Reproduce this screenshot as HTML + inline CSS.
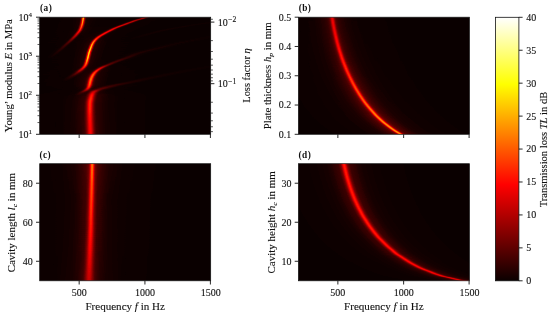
<!DOCTYPE html>
<html lang="en"><head><meta charset="utf-8"><title>Transmission loss parameter study</title>
<style>html,body{margin:0;padding:0;background:#fff}svg{display:block}text{font-family:"Liberation Serif","DejaVu Serif",serif;font-size:10px;fill:#111;stroke:#111;stroke-width:.1px}.al{font-size:10.1px}.b{font-weight:bold;font-size:9.3px;fill:#111;stroke:none;letter-spacing:.4px}.i{font-style:italic}.s{font-size:7px}.s2{font-size:7.6px;letter-spacing:.2px}.tk{stroke:#111;stroke-width:.9;fill:none}.mt{stroke:#111;stroke-width:.7;fill:none}.sp{stroke:#111;stroke-width:.7;fill:none}</style></head><body>
<svg width="550" height="316" viewBox="0 0 550 316">
<defs>
<filter id="hot" x="0" y="0" width="550" height="316" filterUnits="userSpaceOnUse" color-interpolation-filters="sRGB">
<feGaussianBlur stdDeviation="0.6"/><feComponentTransfer><feFuncR type="table" tableValues="0.0416 0.0692 0.0969 0.1245 0.1521 0.1798 0.2074 0.2350 0.2627 0.2903 0.3179 0.3456 0.3732 0.4008 0.4285 0.4561 0.4837 0.5114 0.5390 0.5666 0.5943 0.6219 0.6495 0.6772 0.7048 0.7324 0.7601 0.7877 0.8153 0.8430 0.8706 0.8982 0.9259 0.9535 0.9811 1.0000 1.0000 1.0000 1.0000 1.0000 1.0000 1.0000 1.0000 1.0000 1.0000 1.0000 1.0000 1.0000 1.0000 1.0000 1.0000 1.0000 1.0000 1.0000 1.0000 1.0000 1.0000 1.0000 1.0000 1.0000 1.0000 1.0000 1.0000 1.0000 1.0000 1.0000 1.0000 1.0000 1.0000 1.0000 1.0000 1.0000 1.0000 1.0000 1.0000 1.0000 1.0000 1.0000 1.0000 1.0000 1.0000 1.0000 1.0000 1.0000 1.0000 1.0000 1.0000 1.0000 1.0000 1.0000 1.0000 1.0000 1.0000 1.0000 1.0000 1.0000"/><feFuncG type="table" tableValues="0.0000 0.0000 0.0000 0.0000 0.0000 0.0000 0.0000 0.0000 0.0000 0.0000 0.0000 0.0000 0.0000 0.0000 0.0000 0.0000 0.0000 0.0000 0.0000 0.0000 0.0000 0.0000 0.0000 0.0000 0.0000 0.0000 0.0000 0.0000 0.0000 0.0000 0.0000 0.0000 0.0000 0.0000 0.0000 0.0088 0.0364 0.0640 0.0917 0.1193 0.1469 0.1746 0.2022 0.2298 0.2575 0.2851 0.3127 0.3404 0.3680 0.3956 0.4232 0.4509 0.4785 0.5061 0.5338 0.5614 0.5890 0.6167 0.6443 0.6719 0.6996 0.7272 0.7548 0.7825 0.8101 0.8377 0.8654 0.8930 0.9206 0.9482 0.9759 1.0000 1.0000 1.0000 1.0000 1.0000 1.0000 1.0000 1.0000 1.0000 1.0000 1.0000 1.0000 1.0000 1.0000 1.0000 1.0000 1.0000 1.0000 1.0000 1.0000 1.0000 1.0000 1.0000 1.0000 1.0000"/><feFuncB type="table" tableValues="0.0000 0.0000 0.0000 0.0000 0.0000 0.0000 0.0000 0.0000 0.0000 0.0000 0.0000 0.0000 0.0000 0.0000 0.0000 0.0000 0.0000 0.0000 0.0000 0.0000 0.0000 0.0000 0.0000 0.0000 0.0000 0.0000 0.0000 0.0000 0.0000 0.0000 0.0000 0.0000 0.0000 0.0000 0.0000 0.0000 0.0000 0.0000 0.0000 0.0000 0.0000 0.0000 0.0000 0.0000 0.0000 0.0000 0.0000 0.0000 0.0000 0.0000 0.0000 0.0000 0.0000 0.0000 0.0000 0.0000 0.0000 0.0000 0.0000 0.0000 0.0000 0.0000 0.0000 0.0000 0.0000 0.0000 0.0000 0.0000 0.0000 0.0000 0.0000 0.0053 0.0467 0.0882 0.1296 0.1711 0.2125 0.2539 0.2954 0.3368 0.3783 0.4197 0.4612 0.5026 0.5441 0.5855 0.6270 0.6684 0.7099 0.7513 0.7928 0.8342 0.8757 0.9171 0.9586 1.0000"/></feComponentTransfer></filter>
<filter id="L0" x="-120" y="-20" width="790" height="356" filterUnits="userSpaceOnUse" color-interpolation-filters="sRGB"><feGaussianBlur stdDeviation="0.5 0.03"/></filter>
<filter id="L1" x="-120" y="-20" width="790" height="356" filterUnits="userSpaceOnUse" color-interpolation-filters="sRGB"><feGaussianBlur stdDeviation="1 0.03"/></filter>
<filter id="L2" x="-120" y="-20" width="790" height="356" filterUnits="userSpaceOnUse" color-interpolation-filters="sRGB"><feGaussianBlur stdDeviation="2 0.03"/></filter>
<filter id="L3" x="-120" y="-20" width="790" height="356" filterUnits="userSpaceOnUse" color-interpolation-filters="sRGB"><feGaussianBlur stdDeviation="4 0.03"/></filter>
<filter id="L4" x="-120" y="-20" width="790" height="356" filterUnits="userSpaceOnUse" color-interpolation-filters="sRGB"><feGaussianBlur stdDeviation="8 0.03"/></filter>
<filter id="L5" x="-120" y="-20" width="790" height="356" filterUnits="userSpaceOnUse" color-interpolation-filters="sRGB"><feGaussianBlur stdDeviation="16 0.03"/></filter>
<filter id="L6" x="-120" y="-20" width="790" height="356" filterUnits="userSpaceOnUse" color-interpolation-filters="sRGB"><feGaussianBlur stdDeviation="32 0.03"/></filter>
<clipPath id="ca"><rect x="39.70" y="17.20" width="171.00" height="117.10"/></clipPath>
<clipPath id="cb"><rect x="298.40" y="17.20" width="171.00" height="117.10"/></clipPath>
<clipPath id="cc"><rect x="39.70" y="163.70" width="171.00" height="117.10"/></clipPath>
<clipPath id="cd"><rect x="298.40" y="163.70" width="171.00" height="117.10"/></clipPath>
<linearGradient id="cbg" x1="0" y1="1" x2="0" y2="0">
<stop offset="0.00000" stop-color="rgb(11,0,0)"/>
<stop offset="0.36508" stop-color="rgb(255,0,0)"/>
<stop offset="0.74603" stop-color="rgb(255,255,0)"/>
<stop offset="1.00000" stop-color="rgb(255,255,255)"/>
</linearGradient>
<linearGradient id="g1" gradientUnits="userSpaceOnUse" x1="0" y1="14.0" x2="0" y2="59.0"><stop offset="0.0000" stop-color="#fff" stop-opacity="0.495"/><stop offset="0.0667" stop-color="#fff" stop-opacity="0.495"/><stop offset="0.2444" stop-color="#fff" stop-opacity="0.240"/><stop offset="0.4222" stop-color="#fff" stop-opacity="0.049"/><stop offset="0.5111" stop-color="#fff" stop-opacity="0.000"/><stop offset="0.6000" stop-color="#fff" stop-opacity="0.000"/><stop offset="0.6889" stop-color="#fff" stop-opacity="0.000"/><stop offset="0.7778" stop-color="#fff" stop-opacity="0.000"/><stop offset="0.9111" stop-color="#fff" stop-opacity="0.000"/><stop offset="1.0000" stop-color="#fff" stop-opacity="0.000"/></linearGradient><linearGradient id="g2" gradientUnits="userSpaceOnUse" x1="0" y1="14.0" x2="0" y2="59.0"><stop offset="0.0000" stop-color="#fff" stop-opacity="0.664"/><stop offset="0.0667" stop-color="#fff" stop-opacity="0.664"/><stop offset="0.2444" stop-color="#fff" stop-opacity="0.661"/><stop offset="0.4222" stop-color="#fff" stop-opacity="0.498"/><stop offset="0.5111" stop-color="#fff" stop-opacity="0.375"/><stop offset="0.6000" stop-color="#fff" stop-opacity="0.171"/><stop offset="0.6889" stop-color="#fff" stop-opacity="0.104"/><stop offset="0.7778" stop-color="#fff" stop-opacity="0.050"/><stop offset="0.9111" stop-color="#fff" stop-opacity="0.019"/><stop offset="1.0000" stop-color="#fff" stop-opacity="0.000"/></linearGradient><linearGradient id="g3" gradientUnits="userSpaceOnUse" x1="0" y1="14.0" x2="0" y2="59.0"><stop offset="0.0000" stop-color="#fff" stop-opacity="0.000"/><stop offset="0.0667" stop-color="#fff" stop-opacity="0.000"/><stop offset="0.2444" stop-color="#fff" stop-opacity="0.000"/><stop offset="0.4222" stop-color="#fff" stop-opacity="0.011"/><stop offset="0.5111" stop-color="#fff" stop-opacity="0.044"/><stop offset="0.6000" stop-color="#fff" stop-opacity="0.053"/><stop offset="0.6889" stop-color="#fff" stop-opacity="0.050"/><stop offset="0.7778" stop-color="#fff" stop-opacity="0.046"/><stop offset="0.9111" stop-color="#fff" stop-opacity="0.020"/><stop offset="1.0000" stop-color="#fff" stop-opacity="0.000"/></linearGradient><linearGradient id="g4" gradientUnits="userSpaceOnUse" x1="0" y1="14.0" x2="0" y2="59.0"><stop offset="0.0000" stop-color="#fff" stop-opacity="0.023"/><stop offset="0.0667" stop-color="#fff" stop-opacity="0.023"/><stop offset="0.2444" stop-color="#fff" stop-opacity="0.041"/><stop offset="0.4222" stop-color="#fff" stop-opacity="0.039"/><stop offset="0.5111" stop-color="#fff" stop-opacity="0.017"/><stop offset="0.6000" stop-color="#fff" stop-opacity="0.001"/><stop offset="0.6889" stop-color="#fff" stop-opacity="0.000"/><stop offset="0.7778" stop-color="#fff" stop-opacity="0.000"/><stop offset="0.9111" stop-color="#fff" stop-opacity="0.000"/><stop offset="1.0000" stop-color="#fff" stop-opacity="0.000"/></linearGradient><linearGradient id="g5" gradientUnits="userSpaceOnUse" x1="0" y1="14.0" x2="0" y2="59.0"><stop offset="0.0000" stop-color="#fff" stop-opacity="0.055"/><stop offset="0.0667" stop-color="#fff" stop-opacity="0.055"/><stop offset="0.2444" stop-color="#fff" stop-opacity="0.044"/><stop offset="0.4222" stop-color="#fff" stop-opacity="0.027"/><stop offset="0.5111" stop-color="#fff" stop-opacity="0.024"/><stop offset="0.6000" stop-color="#fff" stop-opacity="0.018"/><stop offset="0.6889" stop-color="#fff" stop-opacity="0.010"/><stop offset="0.7778" stop-color="#fff" stop-opacity="0.004"/><stop offset="0.9111" stop-color="#fff" stop-opacity="0.003"/><stop offset="1.0000" stop-color="#fff" stop-opacity="0.000"/></linearGradient><linearGradient id="g6" gradientUnits="userSpaceOnUse" x1="0" y1="14.0" x2="0" y2="59.0"><stop offset="0.0000" stop-color="#fff" stop-opacity="0.012"/><stop offset="0.0667" stop-color="#fff" stop-opacity="0.012"/><stop offset="0.2444" stop-color="#fff" stop-opacity="0.017"/><stop offset="0.4222" stop-color="#fff" stop-opacity="0.014"/><stop offset="0.5111" stop-color="#fff" stop-opacity="0.008"/><stop offset="0.6000" stop-color="#fff" stop-opacity="0.004"/><stop offset="0.6889" stop-color="#fff" stop-opacity="0.003"/><stop offset="0.7778" stop-color="#fff" stop-opacity="0.003"/><stop offset="0.9111" stop-color="#fff" stop-opacity="0.001"/><stop offset="1.0000" stop-color="#fff" stop-opacity="0.000"/></linearGradient><linearGradient id="g7" gradientUnits="userSpaceOnUse" x1="0" y1="14.0" x2="0" y2="59.0"><stop offset="0.0000" stop-color="#fff" stop-opacity="0.009"/><stop offset="0.0667" stop-color="#fff" stop-opacity="0.009"/><stop offset="0.2444" stop-color="#fff" stop-opacity="0.008"/><stop offset="0.4222" stop-color="#fff" stop-opacity="0.005"/><stop offset="0.5111" stop-color="#fff" stop-opacity="0.004"/><stop offset="0.6000" stop-color="#fff" stop-opacity="0.003"/><stop offset="0.6889" stop-color="#fff" stop-opacity="0.001"/><stop offset="0.7778" stop-color="#fff" stop-opacity="0.001"/><stop offset="0.9111" stop-color="#fff" stop-opacity="0.000"/><stop offset="1.0000" stop-color="#fff" stop-opacity="0.000"/></linearGradient><linearGradient id="g8" gradientUnits="userSpaceOnUse" x1="0" y1="15.5" x2="0" y2="82.0"><stop offset="0.0000" stop-color="#fff" stop-opacity="0.000"/><stop offset="0.0376" stop-color="#fff" stop-opacity="0.000"/><stop offset="0.0977" stop-color="#fff" stop-opacity="0.000"/><stop offset="0.1579" stop-color="#fff" stop-opacity="0.000"/><stop offset="0.2180" stop-color="#fff" stop-opacity="0.000"/><stop offset="0.2782" stop-color="#fff" stop-opacity="0.000"/><stop offset="0.3383" stop-color="#fff" stop-opacity="0.003"/><stop offset="0.4286" stop-color="#fff" stop-opacity="0.313"/><stop offset="0.5188" stop-color="#fff" stop-opacity="0.394"/><stop offset="0.6391" stop-color="#fff" stop-opacity="0.394"/><stop offset="0.7143" stop-color="#fff" stop-opacity="0.119"/><stop offset="0.7744" stop-color="#fff" stop-opacity="0.003"/><stop offset="0.8195" stop-color="#fff" stop-opacity="0.000"/><stop offset="0.8647" stop-color="#fff" stop-opacity="0.000"/><stop offset="0.9173" stop-color="#fff" stop-opacity="0.000"/><stop offset="0.9624" stop-color="#fff" stop-opacity="0.000"/><stop offset="1.0000" stop-color="#fff" stop-opacity="0.000"/></linearGradient><linearGradient id="g9" gradientUnits="userSpaceOnUse" x1="0" y1="15.5" x2="0" y2="82.0"><stop offset="0.0000" stop-color="#fff" stop-opacity="0.152"/><stop offset="0.0376" stop-color="#fff" stop-opacity="0.274"/><stop offset="0.0977" stop-color="#fff" stop-opacity="0.343"/><stop offset="0.1579" stop-color="#fff" stop-opacity="0.398"/><stop offset="0.2180" stop-color="#fff" stop-opacity="0.464"/><stop offset="0.2782" stop-color="#fff" stop-opacity="0.547"/><stop offset="0.3383" stop-color="#fff" stop-opacity="0.667"/><stop offset="0.4286" stop-color="#fff" stop-opacity="0.750"/><stop offset="0.5188" stop-color="#fff" stop-opacity="0.819"/><stop offset="0.6391" stop-color="#fff" stop-opacity="0.819"/><stop offset="0.7143" stop-color="#fff" stop-opacity="0.774"/><stop offset="0.7744" stop-color="#fff" stop-opacity="0.621"/><stop offset="0.8195" stop-color="#fff" stop-opacity="0.307"/><stop offset="0.8647" stop-color="#fff" stop-opacity="0.068"/><stop offset="0.9173" stop-color="#fff" stop-opacity="0.018"/><stop offset="0.9624" stop-color="#fff" stop-opacity="0.006"/><stop offset="1.0000" stop-color="#fff" stop-opacity="0.000"/></linearGradient><linearGradient id="g10" gradientUnits="userSpaceOnUse" x1="0" y1="15.5" x2="0" y2="82.0"><stop offset="0.0000" stop-color="#fff" stop-opacity="0.117"/><stop offset="0.0376" stop-color="#fff" stop-opacity="0.194"/><stop offset="0.0977" stop-color="#fff" stop-opacity="0.237"/><stop offset="0.1579" stop-color="#fff" stop-opacity="0.277"/><stop offset="0.2180" stop-color="#fff" stop-opacity="0.244"/><stop offset="0.2782" stop-color="#fff" stop-opacity="0.207"/><stop offset="0.3383" stop-color="#fff" stop-opacity="0.073"/><stop offset="0.4286" stop-color="#fff" stop-opacity="0.000"/><stop offset="0.5188" stop-color="#fff" stop-opacity="0.000"/><stop offset="0.6391" stop-color="#fff" stop-opacity="0.000"/><stop offset="0.7143" stop-color="#fff" stop-opacity="0.018"/><stop offset="0.7744" stop-color="#fff" stop-opacity="0.070"/><stop offset="0.8195" stop-color="#fff" stop-opacity="0.241"/><stop offset="0.8647" stop-color="#fff" stop-opacity="0.186"/><stop offset="0.9173" stop-color="#fff" stop-opacity="0.101"/><stop offset="0.9624" stop-color="#fff" stop-opacity="0.035"/><stop offset="1.0000" stop-color="#fff" stop-opacity="0.000"/></linearGradient><linearGradient id="g11" gradientUnits="userSpaceOnUse" x1="0" y1="15.5" x2="0" y2="82.0"><stop offset="0.0000" stop-color="#fff" stop-opacity="0.000"/><stop offset="0.0376" stop-color="#fff" stop-opacity="0.000"/><stop offset="0.0977" stop-color="#fff" stop-opacity="0.000"/><stop offset="0.1579" stop-color="#fff" stop-opacity="0.000"/><stop offset="0.2180" stop-color="#fff" stop-opacity="0.000"/><stop offset="0.2782" stop-color="#fff" stop-opacity="0.000"/><stop offset="0.3383" stop-color="#fff" stop-opacity="0.032"/><stop offset="0.4286" stop-color="#fff" stop-opacity="0.057"/><stop offset="0.5188" stop-color="#fff" stop-opacity="0.056"/><stop offset="0.6391" stop-color="#fff" stop-opacity="0.056"/><stop offset="0.7143" stop-color="#fff" stop-opacity="0.059"/><stop offset="0.7744" stop-color="#fff" stop-opacity="0.032"/><stop offset="0.8195" stop-color="#fff" stop-opacity="0.000"/><stop offset="0.8647" stop-color="#fff" stop-opacity="0.000"/><stop offset="0.9173" stop-color="#fff" stop-opacity="0.000"/><stop offset="0.9624" stop-color="#fff" stop-opacity="0.000"/><stop offset="1.0000" stop-color="#fff" stop-opacity="0.000"/></linearGradient><linearGradient id="g12" gradientUnits="userSpaceOnUse" x1="0" y1="15.5" x2="0" y2="82.0"><stop offset="0.0000" stop-color="#fff" stop-opacity="0.000"/><stop offset="0.0376" stop-color="#fff" stop-opacity="0.000"/><stop offset="0.0977" stop-color="#fff" stop-opacity="0.000"/><stop offset="0.1579" stop-color="#fff" stop-opacity="0.005"/><stop offset="0.2180" stop-color="#fff" stop-opacity="0.018"/><stop offset="0.2782" stop-color="#fff" stop-opacity="0.032"/><stop offset="0.3383" stop-color="#fff" stop-opacity="0.044"/><stop offset="0.4286" stop-color="#fff" stop-opacity="0.057"/><stop offset="0.5188" stop-color="#fff" stop-opacity="0.058"/><stop offset="0.6391" stop-color="#fff" stop-opacity="0.058"/><stop offset="0.7143" stop-color="#fff" stop-opacity="0.047"/><stop offset="0.7744" stop-color="#fff" stop-opacity="0.044"/><stop offset="0.8195" stop-color="#fff" stop-opacity="0.025"/><stop offset="0.8647" stop-color="#fff" stop-opacity="0.017"/><stop offset="0.9173" stop-color="#fff" stop-opacity="0.008"/><stop offset="0.9624" stop-color="#fff" stop-opacity="0.004"/><stop offset="1.0000" stop-color="#fff" stop-opacity="0.000"/></linearGradient><linearGradient id="g13" gradientUnits="userSpaceOnUse" x1="0" y1="15.5" x2="0" y2="82.0"><stop offset="0.0000" stop-color="#fff" stop-opacity="0.006"/><stop offset="0.0376" stop-color="#fff" stop-opacity="0.008"/><stop offset="0.0977" stop-color="#fff" stop-opacity="0.012"/><stop offset="0.1579" stop-color="#fff" stop-opacity="0.017"/><stop offset="0.2180" stop-color="#fff" stop-opacity="0.016"/><stop offset="0.2782" stop-color="#fff" stop-opacity="0.015"/><stop offset="0.3383" stop-color="#fff" stop-opacity="0.017"/><stop offset="0.4286" stop-color="#fff" stop-opacity="0.025"/><stop offset="0.5188" stop-color="#fff" stop-opacity="0.025"/><stop offset="0.6391" stop-color="#fff" stop-opacity="0.025"/><stop offset="0.7143" stop-color="#fff" stop-opacity="0.025"/><stop offset="0.7744" stop-color="#fff" stop-opacity="0.017"/><stop offset="0.8195" stop-color="#fff" stop-opacity="0.015"/><stop offset="0.8647" stop-color="#fff" stop-opacity="0.007"/><stop offset="0.9173" stop-color="#fff" stop-opacity="0.002"/><stop offset="0.9624" stop-color="#fff" stop-opacity="0.001"/><stop offset="1.0000" stop-color="#fff" stop-opacity="0.000"/></linearGradient><linearGradient id="g14" gradientUnits="userSpaceOnUse" x1="0" y1="15.5" x2="0" y2="82.0"><stop offset="0.0000" stop-color="#fff" stop-opacity="0.000"/><stop offset="0.0376" stop-color="#fff" stop-opacity="0.001"/><stop offset="0.0977" stop-color="#fff" stop-opacity="0.001"/><stop offset="0.1579" stop-color="#fff" stop-opacity="0.001"/><stop offset="0.2180" stop-color="#fff" stop-opacity="0.003"/><stop offset="0.2782" stop-color="#fff" stop-opacity="0.005"/><stop offset="0.3383" stop-color="#fff" stop-opacity="0.008"/><stop offset="0.4286" stop-color="#fff" stop-opacity="0.011"/><stop offset="0.5188" stop-color="#fff" stop-opacity="0.011"/><stop offset="0.6391" stop-color="#fff" stop-opacity="0.011"/><stop offset="0.7143" stop-color="#fff" stop-opacity="0.010"/><stop offset="0.7744" stop-color="#fff" stop-opacity="0.008"/><stop offset="0.8195" stop-color="#fff" stop-opacity="0.004"/><stop offset="0.8647" stop-color="#fff" stop-opacity="0.003"/><stop offset="0.9173" stop-color="#fff" stop-opacity="0.001"/><stop offset="0.9624" stop-color="#fff" stop-opacity="0.001"/><stop offset="1.0000" stop-color="#fff" stop-opacity="0.000"/></linearGradient><linearGradient id="g15" gradientUnits="userSpaceOnUse" x1="0" y1="36.2" x2="0" y2="96.0"><stop offset="0.0000" stop-color="#fff" stop-opacity="0.000"/><stop offset="0.1304" stop-color="#fff" stop-opacity="0.000"/><stop offset="0.2809" stop-color="#fff" stop-opacity="0.000"/><stop offset="0.3645" stop-color="#fff" stop-opacity="0.000"/><stop offset="0.4314" stop-color="#fff" stop-opacity="0.000"/><stop offset="0.4816" stop-color="#fff" stop-opacity="0.049"/><stop offset="0.5234" stop-color="#fff" stop-opacity="0.245"/><stop offset="0.5652" stop-color="#fff" stop-opacity="0.525"/><stop offset="0.6488" stop-color="#fff" stop-opacity="0.690"/><stop offset="0.7324" stop-color="#fff" stop-opacity="0.715"/><stop offset="0.8161" stop-color="#fff" stop-opacity="0.652"/><stop offset="0.8662" stop-color="#fff" stop-opacity="0.495"/><stop offset="0.8997" stop-color="#fff" stop-opacity="0.197"/><stop offset="0.9331" stop-color="#fff" stop-opacity="0.029"/><stop offset="0.9666" stop-color="#fff" stop-opacity="0.009"/><stop offset="1.0000" stop-color="#fff" stop-opacity="0.000"/></linearGradient><linearGradient id="g16" gradientUnits="userSpaceOnUse" x1="0" y1="36.2" x2="0" y2="96.0"><stop offset="0.0000" stop-color="#fff" stop-opacity="0.010"/><stop offset="0.1304" stop-color="#fff" stop-opacity="0.021"/><stop offset="0.2809" stop-color="#fff" stop-opacity="0.041"/><stop offset="0.3645" stop-color="#fff" stop-opacity="0.093"/><stop offset="0.4314" stop-color="#fff" stop-opacity="0.174"/><stop offset="0.4816" stop-color="#fff" stop-opacity="0.248"/><stop offset="0.5234" stop-color="#fff" stop-opacity="0.322"/><stop offset="0.5652" stop-color="#fff" stop-opacity="0.220"/><stop offset="0.6488" stop-color="#fff" stop-opacity="0.280"/><stop offset="0.7324" stop-color="#fff" stop-opacity="0.292"/><stop offset="0.8161" stop-color="#fff" stop-opacity="0.275"/><stop offset="0.8662" stop-color="#fff" stop-opacity="0.213"/><stop offset="0.8997" stop-color="#fff" stop-opacity="0.273"/><stop offset="0.9331" stop-color="#fff" stop-opacity="0.159"/><stop offset="0.9666" stop-color="#fff" stop-opacity="0.055"/><stop offset="1.0000" stop-color="#fff" stop-opacity="0.000"/></linearGradient><linearGradient id="g17" gradientUnits="userSpaceOnUse" x1="0" y1="36.2" x2="0" y2="96.0"><stop offset="0.0000" stop-color="#fff" stop-opacity="0.010"/><stop offset="0.1304" stop-color="#fff" stop-opacity="0.019"/><stop offset="0.2809" stop-color="#fff" stop-opacity="0.039"/><stop offset="0.3645" stop-color="#fff" stop-opacity="0.043"/><stop offset="0.4314" stop-color="#fff" stop-opacity="0.022"/><stop offset="0.4816" stop-color="#fff" stop-opacity="0.000"/><stop offset="0.5234" stop-color="#fff" stop-opacity="0.000"/><stop offset="0.5652" stop-color="#fff" stop-opacity="0.000"/><stop offset="0.6488" stop-color="#fff" stop-opacity="0.000"/><stop offset="0.7324" stop-color="#fff" stop-opacity="0.000"/><stop offset="0.8161" stop-color="#fff" stop-opacity="0.000"/><stop offset="0.8662" stop-color="#fff" stop-opacity="0.000"/><stop offset="0.8997" stop-color="#fff" stop-opacity="0.000"/><stop offset="0.9331" stop-color="#fff" stop-opacity="0.000"/><stop offset="0.9666" stop-color="#fff" stop-opacity="0.001"/><stop offset="1.0000" stop-color="#fff" stop-opacity="0.000"/></linearGradient><linearGradient id="g18" gradientUnits="userSpaceOnUse" x1="0" y1="36.2" x2="0" y2="96.0"><stop offset="0.0000" stop-color="#fff" stop-opacity="0.000"/><stop offset="0.1304" stop-color="#fff" stop-opacity="0.000"/><stop offset="0.2809" stop-color="#fff" stop-opacity="0.000"/><stop offset="0.3645" stop-color="#fff" stop-opacity="0.000"/><stop offset="0.4314" stop-color="#fff" stop-opacity="0.007"/><stop offset="0.4816" stop-color="#fff" stop-opacity="0.013"/><stop offset="0.5234" stop-color="#fff" stop-opacity="0.022"/><stop offset="0.5652" stop-color="#fff" stop-opacity="0.059"/><stop offset="0.6488" stop-color="#fff" stop-opacity="0.092"/><stop offset="0.7324" stop-color="#fff" stop-opacity="0.105"/><stop offset="0.8161" stop-color="#fff" stop-opacity="0.100"/><stop offset="0.8662" stop-color="#fff" stop-opacity="0.060"/><stop offset="0.8997" stop-color="#fff" stop-opacity="0.022"/><stop offset="0.9331" stop-color="#fff" stop-opacity="0.011"/><stop offset="0.9666" stop-color="#fff" stop-opacity="0.007"/><stop offset="1.0000" stop-color="#fff" stop-opacity="0.000"/></linearGradient><linearGradient id="g19" gradientUnits="userSpaceOnUse" x1="0" y1="36.2" x2="0" y2="96.0"><stop offset="0.0000" stop-color="#fff" stop-opacity="0.000"/><stop offset="0.1304" stop-color="#fff" stop-opacity="0.000"/><stop offset="0.2809" stop-color="#fff" stop-opacity="0.000"/><stop offset="0.3645" stop-color="#fff" stop-opacity="0.001"/><stop offset="0.4314" stop-color="#fff" stop-opacity="0.006"/><stop offset="0.4816" stop-color="#fff" stop-opacity="0.006"/><stop offset="0.5234" stop-color="#fff" stop-opacity="0.017"/><stop offset="0.5652" stop-color="#fff" stop-opacity="0.017"/><stop offset="0.6488" stop-color="#fff" stop-opacity="0.026"/><stop offset="0.7324" stop-color="#fff" stop-opacity="0.029"/><stop offset="0.8161" stop-color="#fff" stop-opacity="0.027"/><stop offset="0.8662" stop-color="#fff" stop-opacity="0.017"/><stop offset="0.8997" stop-color="#fff" stop-opacity="0.014"/><stop offset="0.9331" stop-color="#fff" stop-opacity="0.004"/><stop offset="0.9666" stop-color="#fff" stop-opacity="0.002"/><stop offset="1.0000" stop-color="#fff" stop-opacity="0.000"/></linearGradient><linearGradient id="g20" gradientUnits="userSpaceOnUse" x1="0" y1="36.2" x2="0" y2="96.0"><stop offset="0.0000" stop-color="#fff" stop-opacity="0.000"/><stop offset="0.1304" stop-color="#fff" stop-opacity="0.000"/><stop offset="0.2809" stop-color="#fff" stop-opacity="0.001"/><stop offset="0.3645" stop-color="#fff" stop-opacity="0.001"/><stop offset="0.4314" stop-color="#fff" stop-opacity="0.002"/><stop offset="0.4816" stop-color="#fff" stop-opacity="0.002"/><stop offset="0.5234" stop-color="#fff" stop-opacity="0.004"/><stop offset="0.5652" stop-color="#fff" stop-opacity="0.010"/><stop offset="0.6488" stop-color="#fff" stop-opacity="0.016"/><stop offset="0.7324" stop-color="#fff" stop-opacity="0.018"/><stop offset="0.8161" stop-color="#fff" stop-opacity="0.017"/><stop offset="0.8662" stop-color="#fff" stop-opacity="0.010"/><stop offset="0.8997" stop-color="#fff" stop-opacity="0.004"/><stop offset="0.9331" stop-color="#fff" stop-opacity="0.002"/><stop offset="0.9666" stop-color="#fff" stop-opacity="0.001"/><stop offset="1.0000" stop-color="#fff" stop-opacity="0.000"/></linearGradient><linearGradient id="g21" gradientUnits="userSpaceOnUse" x1="0" y1="66.0" x2="0" y2="137.0"><stop offset="0.0000" stop-color="#fff" stop-opacity="0.000"/><stop offset="0.1690" stop-color="#fff" stop-opacity="0.000"/><stop offset="0.2296" stop-color="#fff" stop-opacity="0.001"/><stop offset="0.2620" stop-color="#fff" stop-opacity="0.001"/><stop offset="0.2930" stop-color="#fff" stop-opacity="0.002"/><stop offset="0.3282" stop-color="#fff" stop-opacity="0.000"/><stop offset="0.3606" stop-color="#fff" stop-opacity="0.008"/><stop offset="0.4085" stop-color="#fff" stop-opacity="0.000"/><stop offset="0.4789" stop-color="#fff" stop-opacity="0.000"/><stop offset="0.5915" stop-color="#fff" stop-opacity="0.000"/><stop offset="0.7324" stop-color="#fff" stop-opacity="0.000"/><stop offset="1.0000" stop-color="#fff" stop-opacity="0.001"/></linearGradient><linearGradient id="g22" gradientUnits="userSpaceOnUse" x1="0" y1="66.0" x2="0" y2="137.0"><stop offset="0.0000" stop-color="#fff" stop-opacity="0.000"/><stop offset="0.1690" stop-color="#fff" stop-opacity="0.000"/><stop offset="0.2296" stop-color="#fff" stop-opacity="0.001"/><stop offset="0.2620" stop-color="#fff" stop-opacity="0.002"/><stop offset="0.2930" stop-color="#fff" stop-opacity="0.000"/><stop offset="0.3282" stop-color="#fff" stop-opacity="0.000"/><stop offset="0.3606" stop-color="#fff" stop-opacity="0.000"/><stop offset="0.4085" stop-color="#fff" stop-opacity="0.222"/><stop offset="0.4789" stop-color="#fff" stop-opacity="0.212"/><stop offset="0.5915" stop-color="#fff" stop-opacity="0.203"/><stop offset="0.7324" stop-color="#fff" stop-opacity="0.131"/><stop offset="1.0000" stop-color="#fff" stop-opacity="0.062"/></linearGradient><linearGradient id="g23" gradientUnits="userSpaceOnUse" x1="0" y1="66.0" x2="0" y2="137.0"><stop offset="0.0000" stop-color="#fff" stop-opacity="0.000"/><stop offset="0.1690" stop-color="#fff" stop-opacity="0.000"/><stop offset="0.2296" stop-color="#fff" stop-opacity="0.000"/><stop offset="0.2620" stop-color="#fff" stop-opacity="0.000"/><stop offset="0.2930" stop-color="#fff" stop-opacity="0.019"/><stop offset="0.3282" stop-color="#fff" stop-opacity="0.107"/><stop offset="0.3606" stop-color="#fff" stop-opacity="0.477"/><stop offset="0.4085" stop-color="#fff" stop-opacity="0.525"/><stop offset="0.4789" stop-color="#fff" stop-opacity="0.612"/><stop offset="0.5915" stop-color="#fff" stop-opacity="0.596"/><stop offset="0.7324" stop-color="#fff" stop-opacity="0.541"/><stop offset="1.0000" stop-color="#fff" stop-opacity="0.541"/></linearGradient><linearGradient id="g24" gradientUnits="userSpaceOnUse" x1="0" y1="66.0" x2="0" y2="137.0"><stop offset="0.0000" stop-color="#fff" stop-opacity="0.008"/><stop offset="0.1690" stop-color="#fff" stop-opacity="0.039"/><stop offset="0.2296" stop-color="#fff" stop-opacity="0.075"/><stop offset="0.2620" stop-color="#fff" stop-opacity="0.130"/><stop offset="0.2930" stop-color="#fff" stop-opacity="0.181"/><stop offset="0.3282" stop-color="#fff" stop-opacity="0.195"/><stop offset="0.3606" stop-color="#fff" stop-opacity="0.084"/><stop offset="0.4085" stop-color="#fff" stop-opacity="0.010"/><stop offset="0.4789" stop-color="#fff" stop-opacity="0.020"/><stop offset="0.5915" stop-color="#fff" stop-opacity="0.022"/><stop offset="0.7324" stop-color="#fff" stop-opacity="0.045"/><stop offset="1.0000" stop-color="#fff" stop-opacity="0.080"/></linearGradient><linearGradient id="g25" gradientUnits="userSpaceOnUse" x1="0" y1="66.0" x2="0" y2="137.0"><stop offset="0.0000" stop-color="#fff" stop-opacity="0.001"/><stop offset="0.1690" stop-color="#fff" stop-opacity="0.004"/><stop offset="0.2296" stop-color="#fff" stop-opacity="0.009"/><stop offset="0.2620" stop-color="#fff" stop-opacity="0.017"/><stop offset="0.2930" stop-color="#fff" stop-opacity="0.005"/><stop offset="0.3282" stop-color="#fff" stop-opacity="0.000"/><stop offset="0.3606" stop-color="#fff" stop-opacity="0.056"/><stop offset="0.4085" stop-color="#fff" stop-opacity="0.133"/><stop offset="0.4789" stop-color="#fff" stop-opacity="0.142"/><stop offset="0.5915" stop-color="#fff" stop-opacity="0.142"/><stop offset="0.7324" stop-color="#fff" stop-opacity="0.133"/><stop offset="1.0000" stop-color="#fff" stop-opacity="0.120"/></linearGradient><linearGradient id="g26" gradientUnits="userSpaceOnUse" x1="0" y1="66.0" x2="0" y2="137.0"><stop offset="0.0000" stop-color="#fff" stop-opacity="0.000"/><stop offset="0.1690" stop-color="#fff" stop-opacity="0.000"/><stop offset="0.2296" stop-color="#fff" stop-opacity="0.000"/><stop offset="0.2620" stop-color="#fff" stop-opacity="0.000"/><stop offset="0.2930" stop-color="#fff" stop-opacity="0.006"/><stop offset="0.3282" stop-color="#fff" stop-opacity="0.016"/><stop offset="0.3606" stop-color="#fff" stop-opacity="0.033"/><stop offset="0.4085" stop-color="#fff" stop-opacity="0.044"/><stop offset="0.4789" stop-color="#fff" stop-opacity="0.052"/><stop offset="0.5915" stop-color="#fff" stop-opacity="0.053"/><stop offset="0.7324" stop-color="#fff" stop-opacity="0.056"/><stop offset="1.0000" stop-color="#fff" stop-opacity="0.060"/></linearGradient><linearGradient id="g27" gradientUnits="userSpaceOnUse" x1="0" y1="66.0" x2="0" y2="137.0"><stop offset="0.0000" stop-color="#fff" stop-opacity="0.000"/><stop offset="0.1690" stop-color="#fff" stop-opacity="0.000"/><stop offset="0.2296" stop-color="#fff" stop-opacity="0.001"/><stop offset="0.2620" stop-color="#fff" stop-opacity="0.002"/><stop offset="0.2930" stop-color="#fff" stop-opacity="0.002"/><stop offset="0.3282" stop-color="#fff" stop-opacity="0.004"/><stop offset="0.3606" stop-color="#fff" stop-opacity="0.012"/><stop offset="0.4085" stop-color="#fff" stop-opacity="0.026"/><stop offset="0.4789" stop-color="#fff" stop-opacity="0.029"/><stop offset="0.5915" stop-color="#fff" stop-opacity="0.029"/><stop offset="0.7324" stop-color="#fff" stop-opacity="0.028"/><stop offset="1.0000" stop-color="#fff" stop-opacity="0.028"/></linearGradient><linearGradient id="g28" gradientUnits="userSpaceOnUse" x1="0" y1="22.3" x2="0" y2="39.5"><stop offset="0.0000" stop-color="#fff" stop-opacity="0.019"/><stop offset="0.4477" stop-color="#fff" stop-opacity="0.032"/><stop offset="0.7965" stop-color="#fff" stop-opacity="0.019"/><stop offset="1.0000" stop-color="#fff" stop-opacity="0.000"/></linearGradient><linearGradient id="g29" gradientUnits="userSpaceOnUse" x1="0" y1="22.3" x2="0" y2="39.5"><stop offset="0.0000" stop-color="#fff" stop-opacity="0.003"/><stop offset="0.4477" stop-color="#fff" stop-opacity="0.005"/><stop offset="0.7965" stop-color="#fff" stop-opacity="0.003"/><stop offset="1.0000" stop-color="#fff" stop-opacity="0.000"/></linearGradient><linearGradient id="g30" gradientUnits="userSpaceOnUse" x1="0" y1="13.0" x2="0" y2="138.0"><stop offset="0.0000" stop-color="#fff" stop-opacity="0.366"/><stop offset="0.1360" stop-color="#fff" stop-opacity="0.375"/><stop offset="0.5040" stop-color="#fff" stop-opacity="0.489"/><stop offset="0.7360" stop-color="#fff" stop-opacity="0.643"/><stop offset="0.8560" stop-color="#fff" stop-opacity="0.744"/><stop offset="1.0000" stop-color="#fff" stop-opacity="0.787"/></linearGradient><linearGradient id="g31" gradientUnits="userSpaceOnUse" x1="0" y1="13.0" x2="0" y2="138.0"><stop offset="0.0000" stop-color="#fff" stop-opacity="0.168"/><stop offset="0.1360" stop-color="#fff" stop-opacity="0.171"/><stop offset="0.5040" stop-color="#fff" stop-opacity="0.209"/><stop offset="0.7360" stop-color="#fff" stop-opacity="0.253"/><stop offset="0.8560" stop-color="#fff" stop-opacity="0.279"/><stop offset="1.0000" stop-color="#fff" stop-opacity="0.376"/></linearGradient><linearGradient id="g32" gradientUnits="userSpaceOnUse" x1="0" y1="13.0" x2="0" y2="138.0"><stop offset="0.0000" stop-color="#fff" stop-opacity="0.055"/><stop offset="0.1360" stop-color="#fff" stop-opacity="0.057"/><stop offset="0.5040" stop-color="#fff" stop-opacity="0.063"/><stop offset="0.7360" stop-color="#fff" stop-opacity="0.059"/><stop offset="0.8560" stop-color="#fff" stop-opacity="0.054"/><stop offset="1.0000" stop-color="#fff" stop-opacity="0.028"/></linearGradient><linearGradient id="g33" gradientUnits="userSpaceOnUse" x1="0" y1="13.0" x2="0" y2="138.0"><stop offset="0.0000" stop-color="#fff" stop-opacity="0.117"/><stop offset="0.1360" stop-color="#fff" stop-opacity="0.123"/><stop offset="0.5040" stop-color="#fff" stop-opacity="0.158"/><stop offset="0.7360" stop-color="#fff" stop-opacity="0.185"/><stop offset="0.8560" stop-color="#fff" stop-opacity="0.197"/><stop offset="1.0000" stop-color="#fff" stop-opacity="0.213"/></linearGradient><linearGradient id="g34" gradientUnits="userSpaceOnUse" x1="0" y1="13.0" x2="0" y2="138.0"><stop offset="0.0000" stop-color="#fff" stop-opacity="0.049"/><stop offset="0.1360" stop-color="#fff" stop-opacity="0.053"/><stop offset="0.5040" stop-color="#fff" stop-opacity="0.073"/><stop offset="0.7360" stop-color="#fff" stop-opacity="0.088"/><stop offset="0.8560" stop-color="#fff" stop-opacity="0.095"/><stop offset="1.0000" stop-color="#fff" stop-opacity="0.096"/></linearGradient><linearGradient id="g35" gradientUnits="userSpaceOnUse" x1="0" y1="13.0" x2="0" y2="138.0"><stop offset="0.0000" stop-color="#fff" stop-opacity="0.025"/><stop offset="0.1360" stop-color="#fff" stop-opacity="0.026"/><stop offset="0.5040" stop-color="#fff" stop-opacity="0.037"/><stop offset="0.7360" stop-color="#fff" stop-opacity="0.046"/><stop offset="0.8560" stop-color="#fff" stop-opacity="0.051"/><stop offset="1.0000" stop-color="#fff" stop-opacity="0.054"/></linearGradient><linearGradient id="g36" gradientUnits="userSpaceOnUse" x1="0" y1="160.0" x2="0" y2="285.0"><stop offset="0.0000" stop-color="#fff" stop-opacity="0.000"/><stop offset="0.0560" stop-color="#fff" stop-opacity="0.000"/><stop offset="0.3200" stop-color="#fff" stop-opacity="0.000"/><stop offset="0.7200" stop-color="#fff" stop-opacity="0.000"/><stop offset="0.9360" stop-color="#fff" stop-opacity="0.005"/><stop offset="1.0000" stop-color="#fff" stop-opacity="0.003"/></linearGradient><linearGradient id="g37" gradientUnits="userSpaceOnUse" x1="0" y1="160.0" x2="0" y2="285.0"><stop offset="0.0000" stop-color="#fff" stop-opacity="0.705"/><stop offset="0.0560" stop-color="#fff" stop-opacity="0.643"/><stop offset="0.3200" stop-color="#fff" stop-opacity="0.412"/><stop offset="0.7200" stop-color="#fff" stop-opacity="0.111"/><stop offset="0.9360" stop-color="#fff" stop-opacity="0.000"/><stop offset="1.0000" stop-color="#fff" stop-opacity="0.000"/></linearGradient><linearGradient id="g38" gradientUnits="userSpaceOnUse" x1="0" y1="160.0" x2="0" y2="285.0"><stop offset="0.0000" stop-color="#fff" stop-opacity="0.189"/><stop offset="0.0560" stop-color="#fff" stop-opacity="0.253"/><stop offset="0.3200" stop-color="#fff" stop-opacity="0.429"/><stop offset="0.7200" stop-color="#fff" stop-opacity="0.490"/><stop offset="0.9360" stop-color="#fff" stop-opacity="0.384"/><stop offset="1.0000" stop-color="#fff" stop-opacity="0.330"/></linearGradient><linearGradient id="g39" gradientUnits="userSpaceOnUse" x1="0" y1="160.0" x2="0" y2="285.0"><stop offset="0.0000" stop-color="#fff" stop-opacity="0.079"/><stop offset="0.0560" stop-color="#fff" stop-opacity="0.059"/><stop offset="0.3200" stop-color="#fff" stop-opacity="0.009"/><stop offset="0.7200" stop-color="#fff" stop-opacity="0.061"/><stop offset="0.9360" stop-color="#fff" stop-opacity="0.164"/><stop offset="1.0000" stop-color="#fff" stop-opacity="0.184"/></linearGradient><linearGradient id="g40" gradientUnits="userSpaceOnUse" x1="0" y1="160.0" x2="0" y2="285.0"><stop offset="0.0000" stop-color="#fff" stop-opacity="0.177"/><stop offset="0.0560" stop-color="#fff" stop-opacity="0.185"/><stop offset="0.3200" stop-color="#fff" stop-opacity="0.167"/><stop offset="0.7200" stop-color="#fff" stop-opacity="0.146"/><stop offset="0.9360" stop-color="#fff" stop-opacity="0.111"/><stop offset="1.0000" stop-color="#fff" stop-opacity="0.105"/></linearGradient><linearGradient id="g41" gradientUnits="userSpaceOnUse" x1="0" y1="160.0" x2="0" y2="285.0"><stop offset="0.0000" stop-color="#fff" stop-opacity="0.091"/><stop offset="0.0560" stop-color="#fff" stop-opacity="0.088"/><stop offset="0.3200" stop-color="#fff" stop-opacity="0.060"/><stop offset="0.7200" stop-color="#fff" stop-opacity="0.068"/><stop offset="0.9360" stop-color="#fff" stop-opacity="0.079"/><stop offset="1.0000" stop-color="#fff" stop-opacity="0.081"/></linearGradient><linearGradient id="g42" gradientUnits="userSpaceOnUse" x1="0" y1="160.0" x2="0" y2="285.0"><stop offset="0.0000" stop-color="#fff" stop-opacity="0.046"/><stop offset="0.0560" stop-color="#fff" stop-opacity="0.046"/><stop offset="0.3200" stop-color="#fff" stop-opacity="0.035"/><stop offset="0.7200" stop-color="#fff" stop-opacity="0.034"/><stop offset="0.9360" stop-color="#fff" stop-opacity="0.031"/><stop offset="1.0000" stop-color="#fff" stop-opacity="0.031"/></linearGradient><linearGradient id="g43" gradientUnits="userSpaceOnUse" x1="0" y1="160.0" x2="0" y2="282.0"><stop offset="0.0000" stop-color="#fff" stop-opacity="0.297"/><stop offset="0.5082" stop-color="#fff" stop-opacity="0.297"/><stop offset="0.7377" stop-color="#fff" stop-opacity="0.260"/><stop offset="0.8525" stop-color="#fff" stop-opacity="0.230"/><stop offset="0.9344" stop-color="#fff" stop-opacity="0.167"/><stop offset="1.0000" stop-color="#fff" stop-opacity="0.069"/></linearGradient><linearGradient id="g44" gradientUnits="userSpaceOnUse" x1="0" y1="160.0" x2="0" y2="282.0"><stop offset="0.0000" stop-color="#fff" stop-opacity="0.399"/><stop offset="0.5082" stop-color="#fff" stop-opacity="0.399"/><stop offset="0.7377" stop-color="#fff" stop-opacity="0.423"/><stop offset="0.8525" stop-color="#fff" stop-opacity="0.450"/><stop offset="0.9344" stop-color="#fff" stop-opacity="0.482"/><stop offset="1.0000" stop-color="#fff" stop-opacity="0.517"/></linearGradient><linearGradient id="g45" gradientUnits="userSpaceOnUse" x1="0" y1="160.0" x2="0" y2="282.0"><stop offset="0.0000" stop-color="#fff" stop-opacity="0.026"/><stop offset="0.5082" stop-color="#fff" stop-opacity="0.026"/><stop offset="0.7377" stop-color="#fff" stop-opacity="0.025"/><stop offset="0.8525" stop-color="#fff" stop-opacity="0.025"/><stop offset="0.9344" stop-color="#fff" stop-opacity="0.035"/><stop offset="1.0000" stop-color="#fff" stop-opacity="0.076"/></linearGradient><linearGradient id="g46" gradientUnits="userSpaceOnUse" x1="0" y1="160.0" x2="0" y2="282.0"><stop offset="0.0000" stop-color="#fff" stop-opacity="0.166"/><stop offset="0.5082" stop-color="#fff" stop-opacity="0.166"/><stop offset="0.7377" stop-color="#fff" stop-opacity="0.160"/><stop offset="0.8525" stop-color="#fff" stop-opacity="0.154"/><stop offset="0.9344" stop-color="#fff" stop-opacity="0.143"/><stop offset="1.0000" stop-color="#fff" stop-opacity="0.122"/></linearGradient><linearGradient id="g47" gradientUnits="userSpaceOnUse" x1="0" y1="160.0" x2="0" y2="282.0"><stop offset="0.0000" stop-color="#fff" stop-opacity="0.066"/><stop offset="0.5082" stop-color="#fff" stop-opacity="0.066"/><stop offset="0.7377" stop-color="#fff" stop-opacity="0.063"/><stop offset="0.8525" stop-color="#fff" stop-opacity="0.059"/><stop offset="0.9344" stop-color="#fff" stop-opacity="0.058"/><stop offset="1.0000" stop-color="#fff" stop-opacity="0.059"/></linearGradient><linearGradient id="g48" gradientUnits="userSpaceOnUse" x1="0" y1="160.0" x2="0" y2="282.0"><stop offset="0.0000" stop-color="#fff" stop-opacity="0.036"/><stop offset="0.5082" stop-color="#fff" stop-opacity="0.036"/><stop offset="0.7377" stop-color="#fff" stop-opacity="0.035"/><stop offset="0.8525" stop-color="#fff" stop-opacity="0.033"/><stop offset="0.9344" stop-color="#fff" stop-opacity="0.031"/><stop offset="1.0000" stop-color="#fff" stop-opacity="0.028"/></linearGradient>
</defs>
<rect width="550" height="316" fill="#fff"/>
<g clip-path="url(#ca)"><g filter="url(#hot)">
<rect x="37.7" y="15.2" width="175.0" height="121.1" fill="#000"/>
<g filter="url(#L6)"><path d="M71.8 14.0C71.7 14.7 71.6 16.2 71.3 18.0C71.0 19.8 70.7 22.6 70.1 24.6C69.5 26.7 68.9 28.6 67.9 30.3C66.9 32.0 65.7 33.3 64.1 35.0C62.5 36.7 60.6 38.6 58.4 40.7C56.2 42.8 53.3 45.2 50.8 47.4C48.3 49.6 45.4 52.1 43.2 54.0C41.0 55.9 39.7 56.8 37.5 58.5C35.3 60.2 31.2 63.1 30.0 64.0L54.0 64.0C55.2 63.1 59.3 60.2 61.5 58.5C63.7 56.8 65.0 55.9 67.2 54.0C69.4 52.1 72.3 49.6 74.8 47.4C77.3 45.2 80.2 42.8 82.4 40.7C84.6 38.6 86.5 36.7 88.1 35.0C89.7 33.3 90.9 32.0 91.9 30.3C92.9 28.6 93.5 26.7 94.1 24.6C94.7 22.6 95.0 19.8 95.3 18.0C95.6 16.2 95.7 14.7 95.8 14.0Z" fill="url(#g7)"/><path d="M140.0 15.5C138.6 15.9 135.1 16.9 131.7 18.0C128.3 19.1 123.4 20.5 119.4 21.9C115.4 23.3 111.2 24.9 107.7 26.3C104.2 27.7 101.0 29.1 98.2 30.5C95.4 31.9 92.9 33.2 90.7 34.5C88.5 35.8 86.6 36.9 85.0 38.3C83.4 39.6 82.2 41.1 81.2 42.6C80.2 44.1 79.6 45.6 78.9 47.4C78.2 49.1 77.5 51.2 77.0 53.1C76.5 55.0 76.1 57.0 75.6 58.8C75.1 60.6 74.8 62.3 74.1 63.8C73.4 65.3 73.0 66.2 71.7 67.6C70.4 69.0 68.4 70.6 66.5 72.0C64.6 73.4 62.4 74.6 60.3 76.0C58.2 77.4 56.5 78.6 54.1 80.2C51.7 81.8 47.4 84.6 46.0 85.5L70.0 85.5C71.3 84.6 75.7 81.8 78.1 80.2C80.5 78.6 82.2 77.4 84.3 76.0C86.4 74.6 88.6 73.4 90.5 72.0C92.4 70.6 94.4 69.0 95.7 67.6C97.0 66.2 97.4 65.3 98.1 63.8C98.8 62.3 99.1 60.6 99.6 58.8C100.1 57.0 100.5 55.0 101.0 53.1C101.5 51.2 102.2 49.1 102.9 47.4C103.6 45.6 104.2 44.1 105.2 42.6C106.2 41.1 107.4 39.6 109.0 38.3C110.6 36.9 112.5 35.8 114.7 34.5C116.9 33.2 119.4 31.9 122.2 30.5C125.0 29.1 128.2 27.7 131.7 26.3C135.2 24.9 139.4 23.3 143.4 21.9C147.4 20.5 152.3 19.1 155.7 18.0C159.1 16.9 162.6 15.9 164.0 15.5Z" fill="url(#g14)"/><path d="M200.0 36.2C197.3 36.8 189.8 38.6 184.0 39.8C178.2 41.0 171.3 42.2 165.0 43.6C158.7 45.0 152.3 46.7 146.0 48.3C139.7 49.9 131.7 51.6 127.0 53.0C122.3 54.4 121.2 55.3 118.0 56.5C114.8 57.7 111.0 59.1 107.7 60.3C104.4 61.5 101.0 62.8 98.2 63.9C95.4 65.0 92.9 65.9 90.7 67.0C88.5 68.1 86.5 69.3 85.0 70.5C83.5 71.7 82.4 72.8 81.4 74.2C80.4 75.6 79.6 77.4 79.0 79.0C78.4 80.6 78.2 82.3 77.8 83.7C77.4 85.1 77.3 86.2 76.7 87.3C76.1 88.3 75.7 89.0 74.3 90.0C72.9 91.0 70.6 92.2 68.4 93.4C66.2 94.6 63.9 95.7 61.2 97.0C58.5 98.3 53.5 100.8 52.0 101.5L76.0 101.5C77.5 100.8 82.5 98.3 85.2 97.0C87.9 95.7 90.2 94.6 92.4 93.4C94.6 92.2 96.9 91.0 98.3 90.0C99.7 89.0 100.1 88.3 100.7 87.3C101.3 86.2 101.4 85.1 101.8 83.7C102.2 82.3 102.4 80.6 103.0 79.0C103.6 77.4 104.4 75.6 105.4 74.2C106.4 72.8 107.5 71.7 109.0 70.5C110.5 69.3 112.5 68.1 114.7 67.0C116.9 65.9 119.4 65.0 122.2 63.9C125.0 62.8 128.4 61.5 131.7 60.3C135.0 59.1 138.8 57.7 142.0 56.5C145.2 55.3 146.3 54.4 151.0 53.0C155.7 51.6 163.7 49.9 170.0 48.3C176.3 46.7 182.7 45.0 189.0 43.6C195.3 42.2 202.2 41.0 208.0 39.8C213.8 38.6 221.3 36.8 224.0 36.2Z" fill="url(#g20)"/><path d="M200.0 66.0C194.7 67.0 178.3 70.0 168.0 72.0C157.7 74.0 146.3 76.3 138.0 78.0C129.7 79.7 123.3 81.2 118.0 82.3C112.7 83.4 109.8 83.8 106.3 84.6C102.8 85.3 100.0 86.0 96.8 86.8C93.6 87.6 89.7 88.5 87.3 89.3C84.9 90.1 83.5 90.6 82.2 91.6C81.0 92.5 80.4 93.6 79.8 95.0C79.2 96.4 78.8 98.3 78.5 100.0C78.2 101.7 78.0 102.0 77.9 105.0C77.8 108.0 77.8 113.8 77.9 118.0C78.0 122.2 78.2 126.8 78.3 130.0C78.4 133.2 78.4 135.8 78.4 137.0L102.4 137.0C102.4 135.8 102.4 133.2 102.3 130.0C102.2 126.8 102.0 122.2 101.9 118.0C101.8 113.8 101.8 108.0 101.9 105.0C102.0 102.0 102.2 101.7 102.5 100.0C102.8 98.3 103.2 96.4 103.8 95.0C104.4 93.6 105.0 92.5 106.2 91.6C107.5 90.6 108.9 90.1 111.3 89.3C113.7 88.5 117.6 87.6 120.8 86.8C124.0 86.0 126.8 85.3 130.3 84.6C133.8 83.8 136.7 83.4 142.0 82.3C147.3 81.2 153.7 79.7 162.0 78.0C170.3 76.3 181.7 74.0 192.0 72.0C202.3 70.0 218.7 67.0 224.0 66.0Z" fill="url(#g27)"/></g><g filter="url(#L5)"><path d="M76.8 14.0C76.7 14.7 76.6 16.2 76.3 18.0C76.0 19.8 75.7 22.6 75.1 24.6C74.5 26.7 73.9 28.6 72.9 30.3C71.9 32.0 70.7 33.3 69.1 35.0C67.5 36.7 65.6 38.6 63.4 40.7C61.2 42.8 58.3 45.2 55.8 47.4C53.3 49.6 50.4 52.1 48.2 54.0C46.0 55.9 44.7 56.8 42.5 58.5C40.3 60.2 36.2 63.1 35.0 64.0L49.0 64.0C50.2 63.1 54.3 60.2 56.5 58.5C58.7 56.8 60.0 55.9 62.2 54.0C64.4 52.1 67.3 49.6 69.8 47.4C72.3 45.2 75.2 42.8 77.4 40.7C79.6 38.6 81.5 36.7 83.1 35.0C84.7 33.3 85.9 32.0 86.9 30.3C87.9 28.6 88.5 26.7 89.1 24.6C89.7 22.6 90.0 19.8 90.3 18.0C90.6 16.2 90.7 14.7 90.8 14.0Z" fill="url(#g6)"/><path d="M145.0 15.5C143.6 15.9 140.1 16.9 136.7 18.0C133.3 19.1 128.4 20.5 124.4 21.9C120.4 23.3 116.2 24.9 112.7 26.3C109.2 27.7 106.0 29.1 103.2 30.5C100.4 31.9 97.9 33.2 95.7 34.5C93.5 35.8 91.6 36.9 90.0 38.3C88.4 39.6 87.2 41.1 86.2 42.6C85.2 44.1 84.6 45.6 83.9 47.4C83.2 49.1 82.5 51.2 82.0 53.1C81.5 55.0 81.1 57.0 80.6 58.8C80.1 60.6 79.8 62.3 79.1 63.8C78.4 65.3 78.0 66.2 76.7 67.6C75.4 69.0 73.4 70.6 71.5 72.0C69.6 73.4 67.4 74.6 65.3 76.0C63.2 77.4 61.5 78.6 59.1 80.2C56.7 81.8 52.4 84.6 51.0 85.5L65.0 85.5C66.3 84.6 70.7 81.8 73.1 80.2C75.5 78.6 77.2 77.4 79.3 76.0C81.4 74.6 83.6 73.4 85.5 72.0C87.4 70.6 89.4 69.0 90.7 67.6C92.0 66.2 92.4 65.3 93.1 63.8C93.8 62.3 94.1 60.6 94.6 58.8C95.1 57.0 95.5 55.0 96.0 53.1C96.5 51.2 97.2 49.1 97.9 47.4C98.6 45.6 99.2 44.1 100.2 42.6C101.2 41.1 102.4 39.6 104.0 38.3C105.6 36.9 107.5 35.8 109.7 34.5C111.9 33.2 114.4 31.9 117.2 30.5C120.0 29.1 123.2 27.7 126.7 26.3C130.2 24.9 134.4 23.3 138.4 21.9C142.4 20.5 147.3 19.1 150.7 18.0C154.1 16.9 157.6 15.9 159.0 15.5Z" fill="url(#g13)"/><path d="M205.0 36.2C202.3 36.8 194.8 38.6 189.0 39.8C183.2 41.0 176.3 42.2 170.0 43.6C163.7 45.0 157.3 46.7 151.0 48.3C144.7 49.9 136.7 51.6 132.0 53.0C127.3 54.4 126.2 55.3 123.0 56.5C119.8 57.7 116.0 59.1 112.7 60.3C109.4 61.5 106.0 62.8 103.2 63.9C100.4 65.0 97.9 65.9 95.7 67.0C93.5 68.1 91.5 69.3 90.0 70.5C88.5 71.7 87.4 72.8 86.4 74.2C85.4 75.6 84.6 77.4 84.0 79.0C83.4 80.6 83.2 82.3 82.8 83.7C82.4 85.1 82.3 86.2 81.7 87.3C81.1 88.3 80.7 89.0 79.3 90.0C77.9 91.0 75.6 92.2 73.4 93.4C71.2 94.6 68.9 95.7 66.2 97.0C63.5 98.3 58.5 100.8 57.0 101.5L71.0 101.5C72.5 100.8 77.5 98.3 80.2 97.0C82.9 95.7 85.2 94.6 87.4 93.4C89.6 92.2 91.9 91.0 93.3 90.0C94.7 89.0 95.1 88.3 95.7 87.3C96.3 86.2 96.4 85.1 96.8 83.7C97.2 82.3 97.4 80.6 98.0 79.0C98.6 77.4 99.4 75.6 100.4 74.2C101.4 72.8 102.5 71.7 104.0 70.5C105.5 69.3 107.5 68.1 109.7 67.0C111.9 65.9 114.4 65.0 117.2 63.9C120.0 62.8 123.4 61.5 126.7 60.3C130.0 59.1 133.8 57.7 137.0 56.5C140.2 55.3 141.3 54.4 146.0 53.0C150.7 51.6 158.7 49.9 165.0 48.3C171.3 46.7 177.7 45.0 184.0 43.6C190.3 42.2 197.2 41.0 203.0 39.8C208.8 38.6 216.3 36.8 219.0 36.2Z" fill="url(#g19)"/><path d="M205.0 66.0C199.7 67.0 183.3 70.0 173.0 72.0C162.7 74.0 151.3 76.3 143.0 78.0C134.7 79.7 128.3 81.2 123.0 82.3C117.7 83.4 114.8 83.8 111.3 84.6C107.8 85.3 105.0 86.0 101.8 86.8C98.6 87.6 94.7 88.5 92.3 89.3C89.9 90.1 88.5 90.6 87.2 91.6C86.0 92.5 85.4 93.6 84.8 95.0C84.2 96.4 83.8 98.3 83.5 100.0C83.2 101.7 83.0 102.0 82.9 105.0C82.8 108.0 82.8 113.8 82.9 118.0C83.0 122.2 83.2 126.8 83.3 130.0C83.4 133.2 83.4 135.8 83.4 137.0L97.4 137.0C97.4 135.8 97.4 133.2 97.3 130.0C97.2 126.8 97.0 122.2 96.9 118.0C96.8 113.8 96.8 108.0 96.9 105.0C97.0 102.0 97.2 101.7 97.5 100.0C97.8 98.3 98.2 96.4 98.8 95.0C99.4 93.6 100.0 92.5 101.2 91.6C102.5 90.6 103.9 90.1 106.3 89.3C108.7 88.5 112.6 87.6 115.8 86.8C119.0 86.0 121.8 85.3 125.3 84.6C128.8 83.8 131.7 83.4 137.0 82.3C142.3 81.2 148.7 79.7 157.0 78.0C165.3 76.3 176.7 74.0 187.0 72.0C197.3 70.0 213.7 67.0 219.0 66.0Z" fill="url(#g26)"/></g><g filter="url(#L4)"><path d="M79.8 14.0C79.7 14.7 79.6 16.2 79.3 18.0C79.0 19.8 78.7 22.6 78.1 24.6C77.5 26.7 76.9 28.6 75.9 30.3C74.9 32.0 73.7 33.3 72.1 35.0C70.5 36.7 68.6 38.6 66.4 40.7C64.2 42.8 61.3 45.2 58.8 47.4C56.3 49.6 53.4 52.1 51.2 54.0C49.0 55.9 47.7 56.8 45.5 58.5C43.3 60.2 39.2 63.1 38.0 64.0L46.0 64.0C47.2 63.1 51.3 60.2 53.5 58.5C55.7 56.8 57.0 55.9 59.2 54.0C61.4 52.1 64.3 49.6 66.8 47.4C69.3 45.2 72.2 42.8 74.4 40.7C76.6 38.6 78.5 36.7 80.1 35.0C81.7 33.3 82.9 32.0 83.9 30.3C84.9 28.6 85.5 26.7 86.1 24.6C86.7 22.6 87.0 19.8 87.3 18.0C87.6 16.2 87.7 14.7 87.8 14.0Z" fill="url(#g5)"/><path d="M148.0 15.5C146.6 15.9 143.1 16.9 139.7 18.0C136.3 19.1 131.4 20.5 127.4 21.9C123.4 23.3 119.2 24.9 115.7 26.3C112.2 27.7 109.0 29.1 106.2 30.5C103.4 31.9 100.9 33.2 98.7 34.5C96.5 35.8 94.6 36.9 93.0 38.3C91.4 39.6 90.2 41.1 89.2 42.6C88.2 44.1 87.6 45.6 86.9 47.4C86.2 49.1 85.5 51.2 85.0 53.1C84.5 55.0 84.1 57.0 83.6 58.8C83.1 60.6 82.8 62.3 82.1 63.8C81.4 65.3 81.0 66.2 79.7 67.6C78.4 69.0 76.4 70.6 74.5 72.0C72.6 73.4 70.4 74.6 68.3 76.0C66.2 77.4 64.5 78.6 62.1 80.2C59.7 81.8 55.4 84.6 54.0 85.5L62.0 85.5C63.4 84.6 67.7 81.8 70.1 80.2C72.5 78.6 74.2 77.4 76.3 76.0C78.4 74.6 80.6 73.4 82.5 72.0C84.4 70.6 86.4 69.0 87.7 67.6C89.0 66.2 89.4 65.3 90.1 63.8C90.8 62.3 91.1 60.6 91.6 58.8C92.1 57.0 92.5 55.0 93.0 53.1C93.5 51.2 94.2 49.1 94.9 47.4C95.6 45.6 96.2 44.1 97.2 42.6C98.2 41.1 99.4 39.6 101.0 38.3C102.6 36.9 104.5 35.8 106.7 34.5C108.9 33.2 111.4 31.9 114.2 30.5C117.0 29.1 120.2 27.7 123.7 26.3C127.2 24.9 131.4 23.3 135.4 21.9C139.4 20.5 144.3 19.1 147.7 18.0C151.1 16.9 154.6 15.9 156.0 15.5Z" fill="url(#g12)"/><path d="M208.0 36.2C205.3 36.8 197.8 38.6 192.0 39.8C186.2 41.0 179.3 42.2 173.0 43.6C166.7 45.0 160.3 46.7 154.0 48.3C147.7 49.9 139.7 51.6 135.0 53.0C130.3 54.4 129.2 55.3 126.0 56.5C122.8 57.7 119.0 59.1 115.7 60.3C112.4 61.5 109.0 62.8 106.2 63.9C103.4 65.0 100.9 65.9 98.7 67.0C96.5 68.1 94.5 69.3 93.0 70.5C91.5 71.7 90.4 72.8 89.4 74.2C88.4 75.6 87.6 77.4 87.0 79.0C86.4 80.6 86.2 82.3 85.8 83.7C85.4 85.1 85.3 86.2 84.7 87.3C84.1 88.3 83.7 89.0 82.3 90.0C80.9 91.0 78.6 92.2 76.4 93.4C74.2 94.6 71.9 95.7 69.2 97.0C66.5 98.3 61.5 100.8 60.0 101.5L68.0 101.5C69.5 100.8 74.5 98.3 77.2 97.0C79.9 95.7 82.2 94.6 84.4 93.4C86.6 92.2 88.9 91.0 90.3 90.0C91.7 89.0 92.1 88.3 92.7 87.3C93.3 86.2 93.4 85.1 93.8 83.7C94.2 82.3 94.4 80.6 95.0 79.0C95.6 77.4 96.4 75.6 97.4 74.2C98.4 72.8 99.5 71.7 101.0 70.5C102.5 69.3 104.5 68.1 106.7 67.0C108.9 65.9 111.4 65.0 114.2 63.9C117.0 62.8 120.4 61.5 123.7 60.3C127.0 59.1 130.8 57.7 134.0 56.5C137.2 55.3 138.3 54.4 143.0 53.0C147.7 51.6 155.7 49.9 162.0 48.3C168.3 46.7 174.7 45.0 181.0 43.6C187.3 42.2 194.2 41.0 200.0 39.8C205.8 38.6 213.3 36.8 216.0 36.2Z" fill="url(#g18)"/><path d="M208.0 66.0C202.7 67.0 186.3 70.0 176.0 72.0C165.7 74.0 154.3 76.3 146.0 78.0C137.7 79.7 131.3 81.2 126.0 82.3C120.7 83.4 117.8 83.8 114.3 84.6C110.8 85.3 108.0 86.0 104.8 86.8C101.6 87.6 97.7 88.5 95.3 89.3C92.9 90.1 91.5 90.6 90.2 91.6C89.0 92.5 88.4 93.6 87.8 95.0C87.2 96.4 86.8 98.3 86.5 100.0C86.2 101.7 86.0 102.0 85.9 105.0C85.8 108.0 85.8 113.8 85.9 118.0C86.0 122.2 86.2 126.8 86.3 130.0C86.4 133.2 86.4 135.8 86.4 137.0L94.4 137.0C94.4 135.8 94.4 133.2 94.3 130.0C94.2 126.8 94.0 122.2 93.9 118.0C93.8 113.8 93.8 108.0 93.9 105.0C94.0 102.0 94.2 101.7 94.5 100.0C94.8 98.3 95.2 96.4 95.8 95.0C96.4 93.6 97.0 92.5 98.2 91.6C99.5 90.6 100.9 90.1 103.3 89.3C105.7 88.5 109.6 87.6 112.8 86.8C116.0 86.0 118.8 85.3 122.3 84.6C125.8 83.8 128.7 83.4 134.0 82.3C139.3 81.2 145.7 79.7 154.0 78.0C162.3 76.3 173.7 74.0 184.0 72.0C194.3 70.0 210.7 67.0 216.0 66.0Z" fill="url(#g25)"/></g><g filter="url(#L3)"><path d="M81.3 14.0C81.2 14.7 81.1 16.2 80.8 18.0C80.5 19.8 80.2 22.6 79.6 24.6C79.0 26.7 78.4 28.6 77.4 30.3C76.4 32.0 75.2 33.3 73.6 35.0C72.0 36.7 70.1 38.6 67.9 40.7C65.7 42.8 62.8 45.2 60.3 47.4C57.8 49.6 54.9 52.1 52.7 54.0C50.5 55.9 49.2 56.8 47.0 58.5C44.8 60.2 40.8 63.1 39.5 64.0L44.5 64.0C45.8 63.1 49.8 60.2 52.0 58.5C54.2 56.8 55.5 55.9 57.7 54.0C59.9 52.1 62.8 49.6 65.3 47.4C67.8 45.2 70.7 42.8 72.9 40.7C75.1 38.6 77.0 36.7 78.6 35.0C80.2 33.3 81.4 32.0 82.4 30.3C83.4 28.6 84.0 26.7 84.6 24.6C85.2 22.6 85.5 19.8 85.8 18.0C86.1 16.2 86.2 14.7 86.3 14.0Z" fill="url(#g4)"/><path d="M149.5 15.5C148.1 15.9 144.6 16.9 141.2 18.0C137.8 19.1 132.9 20.5 128.9 21.9C124.9 23.3 120.7 24.9 117.2 26.3C113.7 27.7 110.5 29.1 107.7 30.5C104.9 31.9 102.4 33.2 100.2 34.5C98.0 35.8 96.1 36.9 94.5 38.3C92.9 39.6 91.7 41.1 90.7 42.6C89.7 44.1 89.1 45.6 88.4 47.4C87.7 49.1 87.0 51.2 86.5 53.1C86.0 55.0 85.6 57.0 85.1 58.8C84.6 60.6 84.2 62.3 83.6 63.8C82.9 65.3 82.5 66.2 81.2 67.6C79.9 69.0 77.9 70.6 76.0 72.0C74.1 73.4 71.9 74.6 69.8 76.0C67.7 77.4 66.0 78.6 63.6 80.2C61.2 81.8 56.9 84.6 55.5 85.5L60.5 85.5C61.9 84.6 66.2 81.8 68.6 80.2C71.0 78.6 72.7 77.4 74.8 76.0C76.9 74.6 79.1 73.4 81.0 72.0C82.9 70.6 84.9 69.0 86.2 67.6C87.5 66.2 87.9 65.3 88.6 63.8C89.2 62.3 89.6 60.6 90.1 58.8C90.6 57.0 91.0 55.0 91.5 53.1C92.0 51.2 92.7 49.1 93.4 47.4C94.1 45.6 94.7 44.1 95.7 42.6C96.7 41.1 97.9 39.6 99.5 38.3C101.1 36.9 103.0 35.8 105.2 34.5C107.4 33.2 109.9 31.9 112.7 30.5C115.5 29.1 118.7 27.7 122.2 26.3C125.7 24.9 129.9 23.3 133.9 21.9C137.9 20.5 142.8 19.1 146.2 18.0C149.6 16.9 153.1 15.9 154.5 15.5Z" fill="url(#g11)"/><path d="M209.5 36.2C206.8 36.8 199.3 38.6 193.5 39.8C187.7 41.0 180.8 42.2 174.5 43.6C168.2 45.0 161.8 46.7 155.5 48.3C149.2 49.9 141.2 51.6 136.5 53.0C131.8 54.4 130.7 55.3 127.5 56.5C124.3 57.7 120.5 59.1 117.2 60.3C113.9 61.5 110.5 62.8 107.7 63.9C104.9 65.0 102.4 65.9 100.2 67.0C98.0 68.1 96.0 69.3 94.5 70.5C93.0 71.7 91.9 72.8 90.9 74.2C89.9 75.6 89.1 77.4 88.5 79.0C87.9 80.6 87.7 82.3 87.3 83.7C86.9 85.1 86.8 86.2 86.2 87.3C85.6 88.3 85.2 89.0 83.8 90.0C82.4 91.0 80.1 92.2 77.9 93.4C75.7 94.6 73.4 95.7 70.7 97.0C68.0 98.3 63.0 100.8 61.5 101.5L66.5 101.5C68.0 100.8 73.0 98.3 75.7 97.0C78.4 95.7 80.7 94.6 82.9 93.4C85.1 92.2 87.4 91.0 88.8 90.0C90.2 89.0 90.6 88.3 91.2 87.3C91.8 86.2 91.9 85.1 92.3 83.7C92.7 82.3 92.9 80.6 93.5 79.0C94.1 77.4 94.9 75.6 95.9 74.2C96.9 72.8 98.0 71.7 99.5 70.5C101.0 69.3 103.0 68.1 105.2 67.0C107.4 65.9 109.9 65.0 112.7 63.9C115.5 62.8 118.9 61.5 122.2 60.3C125.5 59.1 129.3 57.7 132.5 56.5C135.7 55.3 136.8 54.4 141.5 53.0C146.2 51.6 154.2 49.9 160.5 48.3C166.8 46.7 173.2 45.0 179.5 43.6C185.8 42.2 192.7 41.0 198.5 39.8C204.3 38.6 211.8 36.8 214.5 36.2Z" fill="url(#g17)"/><path d="M209.5 66.0C204.2 67.0 187.8 70.0 177.5 72.0C167.2 74.0 155.8 76.3 147.5 78.0C139.2 79.7 132.8 81.2 127.5 82.3C122.2 83.4 119.3 83.8 115.8 84.6C112.3 85.3 109.5 86.0 106.3 86.8C103.1 87.6 99.2 88.5 96.8 89.3C94.4 90.1 93.0 90.6 91.7 91.6C90.5 92.5 89.9 93.6 89.3 95.0C88.7 96.4 88.3 98.3 88.0 100.0C87.7 101.7 87.5 102.0 87.4 105.0C87.3 108.0 87.3 113.8 87.4 118.0C87.5 122.2 87.7 126.8 87.8 130.0C87.9 133.2 87.9 135.8 87.9 137.0L92.9 137.0C92.9 135.8 92.9 133.2 92.8 130.0C92.7 126.8 92.5 122.2 92.4 118.0C92.3 113.8 92.3 108.0 92.4 105.0C92.5 102.0 92.7 101.7 93.0 100.0C93.3 98.3 93.7 96.4 94.3 95.0C94.9 93.6 95.5 92.5 96.7 91.6C98.0 90.6 99.4 90.1 101.8 89.3C104.2 88.5 108.1 87.6 111.3 86.8C114.5 86.0 117.3 85.3 120.8 84.6C124.3 83.8 127.2 83.4 132.5 82.3C137.8 81.2 144.2 79.7 152.5 78.0C160.8 76.3 172.2 74.0 182.5 72.0C192.8 70.0 209.2 67.0 214.5 66.0Z" fill="url(#g24)"/><path d="M209.5 22.3C205.8 22.8 194.5 24.4 187.5 25.5C180.5 26.6 174.4 27.6 167.5 29.0C160.6 30.4 152.7 32.2 146.0 34.0C139.3 35.8 130.6 38.6 127.5 39.5L132.5 39.5C135.6 38.6 144.3 35.8 151.0 34.0C157.7 32.2 165.6 30.4 172.5 29.0C179.4 27.6 185.5 26.6 192.5 25.5C199.5 24.4 210.8 22.8 214.5 22.3Z" fill="url(#g29)"/></g><g filter="url(#L2)"><path d="M82.3 14.0C82.2 14.7 82.1 16.2 81.8 18.0C81.5 19.8 81.2 22.6 80.6 24.6C80.0 26.7 79.4 28.6 78.4 30.3C77.4 32.0 76.2 33.3 74.6 35.0C73.0 36.7 71.1 38.6 68.9 40.7C66.7 42.8 63.8 45.2 61.3 47.4C58.8 49.6 55.9 52.1 53.7 54.0C51.5 55.9 50.2 56.8 48.0 58.5C45.8 60.2 41.8 63.1 40.5 64.0L43.5 64.0C44.8 63.1 48.8 60.2 51.0 58.5C53.2 56.8 54.5 55.9 56.7 54.0C58.9 52.1 61.8 49.6 64.3 47.4C66.8 45.2 69.7 42.8 71.9 40.7C74.1 38.6 76.0 36.7 77.6 35.0C79.2 33.3 80.4 32.0 81.4 30.3C82.4 28.6 83.0 26.7 83.6 24.6C84.2 22.6 84.5 19.8 84.8 18.0C85.1 16.2 85.2 14.7 85.3 14.0Z" fill="url(#g3)"/><path d="M150.5 15.5C149.1 15.9 145.6 16.9 142.2 18.0C138.8 19.1 133.9 20.5 129.9 21.9C125.9 23.3 121.7 24.9 118.2 26.3C114.7 27.7 111.5 29.1 108.7 30.5C105.9 31.9 103.4 33.2 101.2 34.5C99.0 35.8 97.1 36.9 95.5 38.3C93.9 39.6 92.7 41.1 91.7 42.6C90.7 44.1 90.1 45.6 89.4 47.4C88.7 49.1 88.0 51.2 87.5 53.1C87.0 55.0 86.6 57.0 86.1 58.8C85.6 60.6 85.2 62.3 84.6 63.8C83.9 65.3 83.5 66.2 82.2 67.6C80.9 69.0 78.9 70.6 77.0 72.0C75.1 73.4 72.9 74.6 70.8 76.0C68.7 77.4 67.0 78.6 64.6 80.2C62.2 81.8 57.9 84.6 56.5 85.5L59.5 85.5C60.9 84.6 65.2 81.8 67.6 80.2C70.0 78.6 71.7 77.4 73.8 76.0C75.9 74.6 78.1 73.4 80.0 72.0C81.9 70.6 83.9 69.0 85.2 67.6C86.5 66.2 86.9 65.3 87.6 63.8C88.2 62.3 88.6 60.6 89.1 58.8C89.6 57.0 90.0 55.0 90.5 53.1C91.0 51.2 91.7 49.1 92.4 47.4C93.1 45.6 93.7 44.1 94.7 42.6C95.7 41.1 96.9 39.6 98.5 38.3C100.1 36.9 102.0 35.8 104.2 34.5C106.4 33.2 108.9 31.9 111.7 30.5C114.5 29.1 117.7 27.7 121.2 26.3C124.7 24.9 128.9 23.3 132.9 21.9C136.9 20.5 141.8 19.1 145.2 18.0C148.6 16.9 152.1 15.9 153.5 15.5Z" fill="url(#g10)"/><path d="M210.5 36.2C207.8 36.8 200.3 38.6 194.5 39.8C188.7 41.0 181.8 42.2 175.5 43.6C169.2 45.0 162.8 46.7 156.5 48.3C150.2 49.9 142.2 51.6 137.5 53.0C132.8 54.4 131.7 55.3 128.5 56.5C125.3 57.7 121.5 59.1 118.2 60.3C114.9 61.5 111.5 62.8 108.7 63.9C105.9 65.0 103.4 65.9 101.2 67.0C99.0 68.1 97.0 69.3 95.5 70.5C94.0 71.7 92.9 72.8 91.9 74.2C90.9 75.6 90.1 77.4 89.5 79.0C88.9 80.6 88.7 82.3 88.3 83.7C87.9 85.1 87.8 86.2 87.2 87.3C86.6 88.3 86.2 89.0 84.8 90.0C83.4 91.0 81.1 92.2 78.9 93.4C76.7 94.6 74.4 95.7 71.7 97.0C69.0 98.3 64.0 100.8 62.5 101.5L65.5 101.5C67.0 100.8 72.0 98.3 74.7 97.0C77.4 95.7 79.7 94.6 81.9 93.4C84.1 92.2 86.4 91.0 87.8 90.0C89.2 89.0 89.6 88.3 90.2 87.3C90.8 86.2 90.9 85.1 91.3 83.7C91.7 82.3 91.9 80.6 92.5 79.0C93.1 77.4 93.9 75.6 94.9 74.2C95.9 72.8 97.0 71.7 98.5 70.5C100.0 69.3 102.0 68.1 104.2 67.0C106.4 65.9 108.9 65.0 111.7 63.9C114.5 62.8 117.9 61.5 121.2 60.3C124.5 59.1 128.3 57.7 131.5 56.5C134.7 55.3 135.8 54.4 140.5 53.0C145.2 51.6 153.2 49.9 159.5 48.3C165.8 46.7 172.2 45.0 178.5 43.6C184.8 42.2 191.7 41.0 197.5 39.8C203.3 38.6 210.8 36.8 213.5 36.2Z" fill="url(#g16)"/><path d="M210.5 66.0C205.2 67.0 188.8 70.0 178.5 72.0C168.2 74.0 156.8 76.3 148.5 78.0C140.2 79.7 133.8 81.2 128.5 82.3C123.2 83.4 120.3 83.8 116.8 84.6C113.3 85.3 110.5 86.0 107.3 86.8C104.1 87.6 100.2 88.5 97.8 89.3C95.4 90.1 94.0 90.6 92.7 91.6C91.5 92.5 90.9 93.6 90.3 95.0C89.7 96.4 89.3 98.3 89.0 100.0C88.7 101.7 88.5 102.0 88.4 105.0C88.3 108.0 88.3 113.8 88.4 118.0C88.5 122.2 88.7 126.8 88.8 130.0C88.9 133.2 88.9 135.8 88.9 137.0L91.9 137.0C91.9 135.8 91.9 133.2 91.8 130.0C91.7 126.8 91.5 122.2 91.4 118.0C91.3 113.8 91.3 108.0 91.4 105.0C91.5 102.0 91.7 101.7 92.0 100.0C92.3 98.3 92.7 96.4 93.3 95.0C93.9 93.6 94.5 92.5 95.7 91.6C97.0 90.6 98.4 90.1 100.8 89.3C103.2 88.5 107.1 87.6 110.3 86.8C113.5 86.0 116.3 85.3 119.8 84.6C123.3 83.8 126.2 83.4 131.5 82.3C136.8 81.2 143.2 79.7 151.5 78.0C159.8 76.3 171.2 74.0 181.5 72.0C191.8 70.0 208.2 67.0 213.5 66.0Z" fill="url(#g23)"/><path d="M210.5 22.3C206.8 22.8 195.5 24.4 188.5 25.5C181.5 26.6 175.4 27.6 168.5 29.0C161.6 30.4 153.7 32.2 147.0 34.0C140.3 35.8 131.6 38.6 128.5 39.5L131.5 39.5C134.6 38.6 143.3 35.8 150.0 34.0C156.7 32.2 164.6 30.4 171.5 29.0C178.4 27.6 184.5 26.6 191.5 25.5C198.5 24.4 209.8 22.8 213.5 22.3Z" fill="url(#g28)"/></g><g filter="url(#L1)"><path d="M82.8 14.0C82.7 14.7 82.6 16.2 82.3 18.0C82.0 19.8 81.7 22.6 81.1 24.6C80.5 26.7 79.9 28.6 78.9 30.3C77.9 32.0 76.7 33.3 75.1 35.0C73.5 36.7 71.6 38.6 69.4 40.7C67.2 42.8 64.3 45.2 61.8 47.4C59.3 49.6 56.4 52.1 54.2 54.0C52.0 55.9 50.7 56.8 48.5 58.5C46.3 60.2 42.2 63.1 41.0 64.0L43.0 64.0C44.2 63.1 48.3 60.2 50.5 58.5C52.7 56.8 54.0 55.9 56.2 54.0C58.4 52.1 61.3 49.6 63.8 47.4C66.3 45.2 69.2 42.8 71.4 40.7C73.6 38.6 75.5 36.7 77.1 35.0C78.7 33.3 79.9 32.0 80.9 30.3C81.9 28.6 82.5 26.7 83.1 24.6C83.7 22.6 84.0 19.8 84.3 18.0C84.6 16.2 84.7 14.7 84.8 14.0Z" fill="url(#g2)"/><path d="M151.0 15.5C149.6 15.9 146.1 16.9 142.7 18.0C139.3 19.1 134.4 20.5 130.4 21.9C126.4 23.3 122.2 24.9 118.7 26.3C115.2 27.7 112.0 29.1 109.2 30.5C106.4 31.9 103.9 33.2 101.7 34.5C99.5 35.8 97.6 36.9 96.0 38.3C94.4 39.6 93.2 41.1 92.2 42.6C91.2 44.1 90.6 45.6 89.9 47.4C89.2 49.1 88.5 51.2 88.0 53.1C87.5 55.0 87.1 57.0 86.6 58.8C86.1 60.6 85.8 62.3 85.1 63.8C84.4 65.3 84.0 66.2 82.7 67.6C81.4 69.0 79.4 70.6 77.5 72.0C75.6 73.4 73.4 74.6 71.3 76.0C69.2 77.4 67.5 78.6 65.1 80.2C62.7 81.8 58.4 84.6 57.0 85.5L59.0 85.5C60.4 84.6 64.7 81.8 67.1 80.2C69.5 78.6 71.2 77.4 73.3 76.0C75.4 74.6 77.6 73.4 79.5 72.0C81.4 70.6 83.4 69.0 84.7 67.6C86.0 66.2 86.4 65.3 87.1 63.8C87.8 62.3 88.1 60.6 88.6 58.8C89.1 57.0 89.5 55.0 90.0 53.1C90.5 51.2 91.2 49.1 91.9 47.4C92.6 45.6 93.2 44.1 94.2 42.6C95.2 41.1 96.4 39.6 98.0 38.3C99.6 36.9 101.5 35.8 103.7 34.5C105.9 33.2 108.4 31.9 111.2 30.5C114.0 29.1 117.2 27.7 120.7 26.3C124.2 24.9 128.4 23.3 132.4 21.9C136.4 20.5 141.3 19.1 144.7 18.0C148.1 16.9 151.6 15.9 153.0 15.5Z" fill="url(#g9)"/><path d="M211.0 36.2C208.3 36.8 200.8 38.6 195.0 39.8C189.2 41.0 182.3 42.2 176.0 43.6C169.7 45.0 163.3 46.7 157.0 48.3C150.7 49.9 142.7 51.6 138.0 53.0C133.3 54.4 132.2 55.3 129.0 56.5C125.8 57.7 122.0 59.1 118.7 60.3C115.4 61.5 112.0 62.8 109.2 63.9C106.4 65.0 103.9 65.9 101.7 67.0C99.5 68.1 97.5 69.3 96.0 70.5C94.5 71.7 93.4 72.8 92.4 74.2C91.4 75.6 90.6 77.4 90.0 79.0C89.4 80.6 89.2 82.3 88.8 83.7C88.4 85.1 88.3 86.2 87.7 87.3C87.1 88.3 86.7 89.0 85.3 90.0C83.9 91.0 81.6 92.2 79.4 93.4C77.2 94.6 74.9 95.7 72.2 97.0C69.5 98.3 64.5 100.8 63.0 101.5L65.0 101.5C66.5 100.8 71.5 98.3 74.2 97.0C76.9 95.7 79.2 94.6 81.4 93.4C83.6 92.2 85.9 91.0 87.3 90.0C88.7 89.0 89.1 88.3 89.7 87.3C90.3 86.2 90.4 85.1 90.8 83.7C91.2 82.3 91.4 80.6 92.0 79.0C92.6 77.4 93.4 75.6 94.4 74.2C95.4 72.8 96.5 71.7 98.0 70.5C99.5 69.3 101.5 68.1 103.7 67.0C105.9 65.9 108.4 65.0 111.2 63.9C114.0 62.8 117.4 61.5 120.7 60.3C124.0 59.1 127.8 57.7 131.0 56.5C134.2 55.3 135.3 54.4 140.0 53.0C144.7 51.6 152.7 49.9 159.0 48.3C165.3 46.7 171.7 45.0 178.0 43.6C184.3 42.2 191.2 41.0 197.0 39.8C202.8 38.6 210.3 36.8 213.0 36.2Z" fill="url(#g15)"/><path d="M211.0 66.0C205.7 67.0 189.3 70.0 179.0 72.0C168.7 74.0 157.3 76.3 149.0 78.0C140.7 79.7 134.3 81.2 129.0 82.3C123.7 83.4 120.8 83.8 117.3 84.6C113.8 85.3 111.0 86.0 107.8 86.8C104.6 87.6 100.7 88.5 98.3 89.3C95.9 90.1 94.5 90.6 93.2 91.6C92.0 92.5 91.4 93.6 90.8 95.0C90.2 96.4 89.8 98.3 89.5 100.0C89.2 101.7 89.0 102.0 88.9 105.0C88.8 108.0 88.8 113.8 88.9 118.0C89.0 122.2 89.2 126.8 89.3 130.0C89.4 133.2 89.4 135.8 89.4 137.0L91.4 137.0C91.4 135.8 91.4 133.2 91.3 130.0C91.2 126.8 91.0 122.2 90.9 118.0C90.8 113.8 90.8 108.0 90.9 105.0C91.0 102.0 91.2 101.7 91.5 100.0C91.8 98.3 92.2 96.4 92.8 95.0C93.4 93.6 94.0 92.5 95.2 91.6C96.5 90.6 97.9 90.1 100.3 89.3C102.7 88.5 106.6 87.6 109.8 86.8C113.0 86.0 115.8 85.3 119.3 84.6C122.8 83.8 125.7 83.4 131.0 82.3C136.3 81.2 142.7 79.7 151.0 78.0C159.3 76.3 170.7 74.0 181.0 72.0C191.3 70.0 207.7 67.0 213.0 66.0Z" fill="url(#g22)"/></g><g filter="url(#L0)"><path d="M83.2 14.0C83.1 14.7 83.0 16.2 82.7 18.0C82.4 19.8 82.1 22.6 81.5 24.6C80.9 26.7 80.3 28.6 79.3 30.3C78.3 32.0 77.1 33.3 75.5 35.0C73.9 36.7 72.0 38.6 69.8 40.7C67.6 42.8 64.7 45.2 62.2 47.4C59.7 49.6 56.8 52.1 54.6 54.0C52.4 55.9 51.1 56.8 48.9 58.5C46.7 60.2 42.6 63.1 41.4 64.0L42.6 64.0C43.9 63.1 47.9 60.2 50.1 58.5C52.3 56.8 53.6 55.9 55.8 54.0C58.0 52.1 60.9 49.6 63.4 47.4C65.9 45.2 68.8 42.8 71.0 40.7C73.2 38.6 75.1 36.7 76.7 35.0C78.3 33.3 79.5 32.0 80.5 30.3C81.5 28.6 82.1 26.7 82.7 24.6C83.3 22.6 83.6 19.8 83.9 18.0C84.2 16.2 84.3 14.7 84.4 14.0Z" fill="url(#g1)"/><path d="M151.4 15.5C150.0 15.9 146.5 16.9 143.1 18.0C139.7 19.1 134.8 20.5 130.8 21.9C126.8 23.3 122.6 24.9 119.1 26.3C115.6 27.7 112.4 29.1 109.6 30.5C106.8 31.9 104.3 33.2 102.1 34.5C99.9 35.8 98.0 36.9 96.4 38.3C94.8 39.6 93.6 41.1 92.6 42.6C91.6 44.1 91.0 45.6 90.3 47.4C89.6 49.1 89.0 51.2 88.4 53.1C87.9 55.0 87.5 57.0 87.0 58.8C86.5 60.6 86.2 62.3 85.5 63.8C84.8 65.3 84.4 66.2 83.1 67.6C81.8 69.0 79.8 70.6 77.9 72.0C76.0 73.4 73.8 74.6 71.7 76.0C69.6 77.4 67.9 78.6 65.5 80.2C63.1 81.8 58.8 84.6 57.4 85.5L58.6 85.5C60.0 84.6 64.3 81.8 66.7 80.2C69.1 78.6 70.8 77.4 72.9 76.0C75.0 74.6 77.2 73.4 79.1 72.0C81.0 70.6 83.0 69.0 84.3 67.6C85.6 66.2 86.0 65.3 86.7 63.8C87.3 62.3 87.7 60.6 88.2 58.8C88.7 57.0 89.0 55.0 89.6 53.1C90.1 51.2 90.8 49.1 91.5 47.4C92.2 45.6 92.8 44.1 93.8 42.6C94.8 41.1 96.0 39.6 97.6 38.3C99.2 36.9 101.1 35.8 103.3 34.5C105.5 33.2 108.0 31.9 110.8 30.5C113.6 29.1 116.8 27.7 120.3 26.3C123.8 24.9 128.0 23.3 132.0 21.9C136.0 20.5 140.9 19.1 144.3 18.0C147.7 16.9 151.2 15.9 152.6 15.5Z" fill="url(#g8)"/><path d="M211.4 66.0C206.1 67.0 189.7 70.0 179.4 72.0C169.1 74.0 157.7 76.3 149.4 78.0C141.1 79.7 134.7 81.2 129.4 82.3C124.1 83.4 121.2 83.8 117.7 84.6C114.2 85.3 111.4 86.0 108.2 86.8C105.0 87.6 101.1 88.5 98.7 89.3C96.3 90.1 94.9 90.6 93.6 91.6C92.4 92.5 91.8 93.6 91.2 95.0C90.6 96.4 90.2 98.3 89.9 100.0C89.6 101.7 89.4 102.0 89.3 105.0C89.2 108.0 89.2 113.8 89.3 118.0C89.4 122.2 89.6 126.8 89.7 130.0C89.8 133.2 89.8 135.8 89.8 137.0L91.0 137.0C91.0 135.8 91.0 133.2 90.9 130.0C90.8 126.8 90.6 122.2 90.5 118.0C90.4 113.8 90.4 108.0 90.5 105.0C90.6 102.0 90.8 101.7 91.1 100.0C91.4 98.3 91.8 96.4 92.4 95.0C93.0 93.6 93.5 92.5 94.8 91.6C96.0 90.6 97.5 90.1 99.9 89.3C102.3 88.5 106.2 87.6 109.4 86.8C112.6 86.0 115.4 85.3 118.9 84.6C122.4 83.8 125.3 83.4 130.6 82.3C135.9 81.2 142.3 79.7 150.6 78.0C158.9 76.3 170.3 74.0 180.6 72.0C190.9 70.0 207.3 67.0 212.6 66.0Z" fill="url(#g21)"/></g>
</g></g>
<g clip-path="url(#cb)"><g filter="url(#hot)">
<rect x="296.4" y="15.2" width="175.0" height="121.1" fill="#000"/>
<g filter="url(#L6)"><path d="M319.6 13.2C319.7 14.2 320.1 17.4 320.5 19.6C320.8 21.7 321.2 23.9 321.6 26.1C322.0 28.2 322.4 30.4 322.9 32.6C323.4 34.7 323.9 36.9 324.4 39.1C324.9 41.2 325.5 43.4 326.1 45.6C326.7 47.7 327.3 49.9 328.0 52.0C328.7 54.2 329.4 56.3 330.1 58.4C330.9 60.5 331.7 62.7 332.5 64.8C333.3 66.9 334.1 68.9 335.0 71.0C335.9 73.1 336.9 75.1 337.8 77.1C338.8 79.2 339.8 81.2 340.8 83.1C341.9 85.1 343.0 87.1 344.1 89.0C345.2 90.9 346.4 92.8 347.6 94.7C348.8 96.5 350.1 98.4 351.3 100.2C352.6 102.0 354.0 103.7 355.3 105.5C356.7 107.2 358.1 108.9 359.6 110.5C361.1 112.2 362.6 113.8 364.1 115.4C365.7 116.9 367.3 118.5 368.9 119.9C370.6 121.4 372.3 122.8 374.0 124.2C375.7 125.6 377.5 126.9 379.3 128.2C381.2 129.5 383.1 130.7 385.0 131.9C386.9 133.0 388.9 134.1 390.9 135.2C392.9 136.2 396.1 137.6 397.1 138.1L421.1 138.1C420.1 137.6 416.9 136.2 414.9 135.2C412.9 134.1 410.9 133.0 409.0 131.9C407.1 130.7 405.2 129.5 403.3 128.2C401.5 126.9 399.7 125.6 398.0 124.2C396.3 122.8 394.6 121.4 392.9 119.9C391.3 118.5 389.7 116.9 388.1 115.4C386.6 113.8 385.1 112.2 383.6 110.5C382.1 108.9 380.7 107.2 379.3 105.5C378.0 103.7 376.6 102.0 375.3 100.2C374.1 98.4 372.8 96.5 371.6 94.7C370.4 92.8 369.2 90.9 368.1 89.0C367.0 87.1 365.9 85.1 364.8 83.1C363.8 81.2 362.8 79.2 361.8 77.1C360.9 75.1 359.9 73.1 359.0 71.0C358.1 68.9 357.3 66.9 356.5 64.8C355.7 62.7 354.9 60.5 354.1 58.4C353.4 56.3 352.7 54.2 352.0 52.0C351.3 49.9 350.7 47.7 350.1 45.6C349.5 43.4 348.9 41.2 348.4 39.1C347.9 36.9 347.4 34.7 346.9 32.6C346.4 30.4 346.0 28.2 345.6 26.1C345.2 23.9 344.8 21.7 344.5 19.6C344.1 17.4 343.7 14.2 343.6 13.2Z" fill="url(#g35)"/></g><g filter="url(#L5)"><path d="M324.6 13.2C324.7 14.2 325.1 17.4 325.5 19.6C325.8 21.7 326.2 23.9 326.6 26.1C327.0 28.2 327.4 30.4 327.9 32.6C328.4 34.7 328.9 36.9 329.4 39.1C329.9 41.2 330.5 43.4 331.1 45.6C331.7 47.7 332.3 49.9 333.0 52.0C333.7 54.2 334.4 56.3 335.1 58.4C335.9 60.5 336.7 62.7 337.5 64.8C338.3 66.9 339.1 68.9 340.0 71.0C340.9 73.1 341.9 75.1 342.8 77.1C343.8 79.2 344.8 81.2 345.8 83.1C346.9 85.1 348.0 87.1 349.1 89.0C350.2 90.9 351.4 92.8 352.6 94.7C353.8 96.5 355.1 98.4 356.3 100.2C357.6 102.0 359.0 103.7 360.3 105.5C361.7 107.2 363.1 108.9 364.6 110.5C366.1 112.2 367.6 113.8 369.1 115.4C370.7 116.9 372.3 118.5 373.9 119.9C375.6 121.4 377.3 122.8 379.0 124.2C380.7 125.6 382.5 126.9 384.3 128.2C386.2 129.5 388.1 130.7 390.0 131.9C391.9 133.0 393.9 134.1 395.9 135.2C397.9 136.2 401.1 137.6 402.1 138.1L416.1 138.1C415.1 137.6 411.9 136.2 409.9 135.2C407.9 134.1 405.9 133.0 404.0 131.9C402.1 130.7 400.2 129.5 398.3 128.2C396.5 126.9 394.7 125.6 393.0 124.2C391.3 122.8 389.6 121.4 387.9 119.9C386.3 118.5 384.7 116.9 383.1 115.4C381.6 113.8 380.1 112.2 378.6 110.5C377.1 108.9 375.7 107.2 374.3 105.5C373.0 103.7 371.6 102.0 370.3 100.2C369.1 98.4 367.8 96.5 366.6 94.7C365.4 92.8 364.2 90.9 363.1 89.0C362.0 87.1 360.9 85.1 359.8 83.1C358.8 81.2 357.8 79.2 356.8 77.1C355.9 75.1 354.9 73.1 354.0 71.0C353.1 68.9 352.3 66.9 351.5 64.8C350.7 62.7 349.9 60.5 349.1 58.4C348.4 56.3 347.7 54.2 347.0 52.0C346.3 49.9 345.7 47.7 345.1 45.6C344.5 43.4 343.9 41.2 343.4 39.1C342.9 36.9 342.4 34.7 341.9 32.6C341.4 30.4 341.0 28.2 340.6 26.1C340.2 23.9 339.8 21.7 339.5 19.6C339.1 17.4 338.7 14.2 338.6 13.2Z" fill="url(#g34)"/></g><g filter="url(#L4)"><path d="M327.6 13.2C327.7 14.2 328.1 17.4 328.5 19.6C328.8 21.7 329.2 23.9 329.6 26.1C330.0 28.2 330.4 30.4 330.9 32.6C331.4 34.7 331.9 36.9 332.4 39.1C332.9 41.2 333.5 43.4 334.1 45.6C334.7 47.7 335.3 49.9 336.0 52.0C336.7 54.2 337.4 56.3 338.1 58.4C338.9 60.5 339.7 62.7 340.5 64.8C341.3 66.9 342.1 68.9 343.0 71.0C343.9 73.1 344.9 75.1 345.8 77.1C346.8 79.2 347.8 81.2 348.8 83.1C349.9 85.1 351.0 87.1 352.1 89.0C353.2 90.9 354.4 92.8 355.6 94.7C356.8 96.5 358.1 98.4 359.3 100.2C360.6 102.0 362.0 103.7 363.3 105.5C364.7 107.2 366.1 108.9 367.6 110.5C369.1 112.2 370.6 113.8 372.1 115.4C373.7 116.9 375.3 118.5 376.9 119.9C378.6 121.4 380.3 122.8 382.0 124.2C383.7 125.6 385.5 126.9 387.3 128.2C389.2 129.5 391.1 130.7 393.0 131.9C394.9 133.0 396.9 134.1 398.9 135.2C400.9 136.2 404.1 137.6 405.1 138.1L413.1 138.1C412.1 137.6 408.9 136.2 406.9 135.2C404.9 134.1 402.9 133.0 401.0 131.9C399.1 130.7 397.2 129.5 395.3 128.2C393.5 126.9 391.7 125.6 390.0 124.2C388.3 122.8 386.6 121.4 384.9 119.9C383.3 118.5 381.7 116.9 380.1 115.4C378.6 113.8 377.1 112.2 375.6 110.5C374.1 108.9 372.7 107.2 371.3 105.5C370.0 103.7 368.6 102.0 367.3 100.2C366.1 98.4 364.8 96.5 363.6 94.7C362.4 92.8 361.2 90.9 360.1 89.0C359.0 87.1 357.9 85.1 356.8 83.1C355.8 81.2 354.8 79.2 353.8 77.1C352.9 75.1 351.9 73.1 351.0 71.0C350.1 68.9 349.3 66.9 348.5 64.8C347.7 62.7 346.9 60.5 346.1 58.4C345.4 56.3 344.7 54.2 344.0 52.0C343.3 49.9 342.7 47.7 342.1 45.6C341.5 43.4 340.9 41.2 340.4 39.1C339.9 36.9 339.4 34.7 338.9 32.6C338.4 30.4 338.0 28.2 337.6 26.1C337.2 23.9 336.8 21.7 336.5 19.6C336.1 17.4 335.7 14.2 335.6 13.2Z" fill="url(#g33)"/></g><g filter="url(#L3)"><path d="M329.1 13.2C329.2 14.2 329.6 17.4 330.0 19.6C330.3 21.7 330.7 23.9 331.1 26.1C331.5 28.2 331.9 30.4 332.4 32.6C332.9 34.7 333.4 36.9 333.9 39.1C334.4 41.2 335.0 43.4 335.6 45.6C336.2 47.7 336.8 49.9 337.5 52.0C338.2 54.2 338.9 56.3 339.6 58.4C340.4 60.5 341.2 62.7 342.0 64.8C342.8 66.9 343.6 68.9 344.5 71.0C345.4 73.1 346.4 75.1 347.3 77.1C348.3 79.2 349.3 81.2 350.3 83.1C351.4 85.1 352.5 87.1 353.6 89.0C354.7 90.9 355.9 92.8 357.1 94.7C358.3 96.5 359.6 98.4 360.8 100.2C362.1 102.0 363.5 103.7 364.8 105.5C366.2 107.2 367.6 108.9 369.1 110.5C370.6 112.2 372.1 113.8 373.6 115.4C375.2 116.9 376.8 118.5 378.4 119.9C380.1 121.4 381.8 122.8 383.5 124.2C385.2 125.6 387.0 126.9 388.8 128.2C390.7 129.5 392.6 130.7 394.5 131.9C396.4 133.0 398.4 134.1 400.4 135.2C402.4 136.2 405.6 137.6 406.6 138.1L411.6 138.1C410.6 137.6 407.4 136.2 405.4 135.2C403.4 134.1 401.4 133.0 399.5 131.9C397.6 130.7 395.7 129.5 393.8 128.2C392.0 126.9 390.2 125.6 388.5 124.2C386.8 122.8 385.1 121.4 383.4 119.9C381.8 118.5 380.2 116.9 378.6 115.4C377.1 113.8 375.6 112.2 374.1 110.5C372.6 108.9 371.2 107.2 369.8 105.5C368.5 103.7 367.1 102.0 365.8 100.2C364.6 98.4 363.3 96.5 362.1 94.7C360.9 92.8 359.7 90.9 358.6 89.0C357.5 87.1 356.4 85.1 355.3 83.1C354.3 81.2 353.3 79.2 352.3 77.1C351.4 75.1 350.4 73.1 349.5 71.0C348.6 68.9 347.8 66.9 347.0 64.8C346.2 62.7 345.4 60.5 344.6 58.4C343.9 56.3 343.2 54.2 342.5 52.0C341.8 49.9 341.2 47.7 340.6 45.6C340.0 43.4 339.4 41.2 338.9 39.1C338.4 36.9 337.9 34.7 337.4 32.6C336.9 30.4 336.5 28.2 336.1 26.1C335.7 23.9 335.3 21.7 335.0 19.6C334.6 17.4 334.2 14.2 334.1 13.2Z" fill="url(#g32)"/></g><g filter="url(#L2)"><path d="M330.1 13.2C330.2 14.2 330.6 17.4 331.0 19.6C331.3 21.7 331.7 23.9 332.1 26.1C332.5 28.2 332.9 30.4 333.4 32.6C333.9 34.7 334.4 36.9 334.9 39.1C335.4 41.2 336.0 43.4 336.6 45.6C337.2 47.7 337.8 49.9 338.5 52.0C339.2 54.2 339.9 56.3 340.6 58.4C341.4 60.5 342.2 62.7 343.0 64.8C343.8 66.9 344.6 68.9 345.5 71.0C346.4 73.1 347.4 75.1 348.3 77.1C349.3 79.2 350.3 81.2 351.3 83.1C352.4 85.1 353.5 87.1 354.6 89.0C355.7 90.9 356.9 92.8 358.1 94.7C359.3 96.5 360.6 98.4 361.8 100.2C363.1 102.0 364.5 103.7 365.8 105.5C367.2 107.2 368.6 108.9 370.1 110.5C371.6 112.2 373.1 113.8 374.6 115.4C376.2 116.9 377.8 118.5 379.4 119.9C381.1 121.4 382.8 122.8 384.5 124.2C386.2 125.6 388.0 126.9 389.8 128.2C391.7 129.5 393.6 130.7 395.5 131.9C397.4 133.0 399.4 134.1 401.4 135.2C403.4 136.2 406.6 137.6 407.6 138.1L410.6 138.1C409.6 137.6 406.4 136.2 404.4 135.2C402.4 134.1 400.4 133.0 398.5 131.9C396.6 130.7 394.7 129.5 392.8 128.2C391.0 126.9 389.2 125.6 387.5 124.2C385.8 122.8 384.1 121.4 382.4 119.9C380.8 118.5 379.2 116.9 377.6 115.4C376.1 113.8 374.6 112.2 373.1 110.5C371.6 108.9 370.2 107.2 368.8 105.5C367.5 103.7 366.1 102.0 364.8 100.2C363.6 98.4 362.3 96.5 361.1 94.7C359.9 92.8 358.7 90.9 357.6 89.0C356.5 87.1 355.4 85.1 354.3 83.1C353.3 81.2 352.3 79.2 351.3 77.1C350.4 75.1 349.4 73.1 348.5 71.0C347.6 68.9 346.8 66.9 346.0 64.8C345.2 62.7 344.4 60.5 343.6 58.4C342.9 56.3 342.2 54.2 341.5 52.0C340.8 49.9 340.2 47.7 339.6 45.6C339.0 43.4 338.4 41.2 337.9 39.1C337.4 36.9 336.9 34.7 336.4 32.6C335.9 30.4 335.5 28.2 335.1 26.1C334.7 23.9 334.3 21.7 334.0 19.6C333.6 17.4 333.2 14.2 333.1 13.2Z" fill="url(#g31)"/></g><g filter="url(#L1)"><path d="M330.6 13.2C330.7 14.2 331.1 17.4 331.5 19.6C331.8 21.7 332.2 23.9 332.6 26.1C333.0 28.2 333.4 30.4 333.9 32.6C334.4 34.7 334.9 36.9 335.4 39.1C335.9 41.2 336.5 43.4 337.1 45.6C337.7 47.7 338.3 49.9 339.0 52.0C339.7 54.2 340.4 56.3 341.1 58.4C341.9 60.5 342.7 62.7 343.5 64.8C344.3 66.9 345.1 68.9 346.0 71.0C346.9 73.1 347.9 75.1 348.8 77.1C349.8 79.2 350.8 81.2 351.8 83.1C352.9 85.1 354.0 87.1 355.1 89.0C356.2 90.9 357.4 92.8 358.6 94.7C359.8 96.5 361.1 98.4 362.3 100.2C363.6 102.0 365.0 103.7 366.3 105.5C367.7 107.2 369.1 108.9 370.6 110.5C372.1 112.2 373.6 113.8 375.1 115.4C376.7 116.9 378.3 118.5 379.9 119.9C381.6 121.4 383.3 122.8 385.0 124.2C386.7 125.6 388.5 126.9 390.3 128.2C392.2 129.5 394.1 130.7 396.0 131.9C397.9 133.0 399.9 134.1 401.9 135.2C403.9 136.2 407.1 137.6 408.1 138.1L410.1 138.1C409.1 137.6 405.9 136.2 403.9 135.2C401.9 134.1 399.9 133.0 398.0 131.9C396.1 130.7 394.2 129.5 392.3 128.2C390.5 126.9 388.7 125.6 387.0 124.2C385.3 122.8 383.6 121.4 381.9 119.9C380.3 118.5 378.7 116.9 377.1 115.4C375.6 113.8 374.1 112.2 372.6 110.5C371.1 108.9 369.7 107.2 368.3 105.5C367.0 103.7 365.6 102.0 364.3 100.2C363.1 98.4 361.8 96.5 360.6 94.7C359.4 92.8 358.2 90.9 357.1 89.0C356.0 87.1 354.9 85.1 353.8 83.1C352.8 81.2 351.8 79.2 350.8 77.1C349.9 75.1 348.9 73.1 348.0 71.0C347.1 68.9 346.3 66.9 345.5 64.8C344.7 62.7 343.9 60.5 343.1 58.4C342.4 56.3 341.7 54.2 341.0 52.0C340.3 49.9 339.7 47.7 339.1 45.6C338.5 43.4 337.9 41.2 337.4 39.1C336.9 36.9 336.4 34.7 335.9 32.6C335.4 30.4 335.0 28.2 334.6 26.1C334.2 23.9 333.8 21.7 333.5 19.6C333.1 17.4 332.7 14.2 332.6 13.2Z" fill="url(#g30)"/></g>
</g></g>
<g clip-path="url(#cc)"><g filter="url(#hot)">
<rect x="37.7" y="161.7" width="175.0" height="121.1" fill="#000"/>
<g filter="url(#L6)"><path d="M80.3 160.0C80.3 160.7 80.4 153.5 80.2 164.0C80.0 174.5 79.4 203.5 78.9 223.0C78.4 242.5 77.3 270.7 77.0 281.0C76.7 291.3 76.9 284.3 76.9 285.0L100.9 285.0C100.9 284.3 100.7 291.3 101.0 281.0C101.3 270.7 102.4 242.5 102.9 223.0C103.4 203.5 104.0 174.5 104.2 164.0C104.4 153.5 104.3 160.7 104.3 160.0Z" fill="url(#g42)"/></g><g filter="url(#L5)"><path d="M85.3 160.0C85.3 160.7 85.4 153.5 85.2 164.0C85.0 174.5 84.4 203.5 83.9 223.0C83.4 242.5 82.3 270.7 82.0 281.0C81.7 291.3 81.9 284.3 81.9 285.0L95.9 285.0C95.9 284.3 95.7 291.3 96.0 281.0C96.3 270.7 97.4 242.5 97.9 223.0C98.4 203.5 99.0 174.5 99.2 164.0C99.4 153.5 99.3 160.7 99.3 160.0Z" fill="url(#g41)"/></g><g filter="url(#L4)"><path d="M88.3 160.0C88.3 160.7 88.4 153.5 88.2 164.0C88.0 174.5 87.4 203.5 86.9 223.0C86.4 242.5 85.3 270.7 85.0 281.0C84.7 291.3 84.9 284.3 84.9 285.0L92.9 285.0C92.9 284.3 92.7 291.3 93.0 281.0C93.3 270.7 94.4 242.5 94.9 223.0C95.4 203.5 96.0 174.5 96.2 164.0C96.4 153.5 96.3 160.7 96.3 160.0Z" fill="url(#g40)"/></g><g filter="url(#L3)"><path d="M89.8 160.0C89.8 160.7 89.9 153.5 89.7 164.0C89.5 174.5 88.9 203.5 88.4 223.0C87.9 242.5 86.8 270.7 86.5 281.0C86.2 291.3 86.4 284.3 86.4 285.0L91.4 285.0C91.4 284.3 91.2 291.3 91.5 281.0C91.8 270.7 92.9 242.5 93.4 223.0C93.9 203.5 94.5 174.5 94.7 164.0C94.9 153.5 94.8 160.7 94.8 160.0Z" fill="url(#g39)"/></g><g filter="url(#L2)"><path d="M90.8 160.0C90.8 160.7 90.9 153.5 90.7 164.0C90.5 174.5 89.9 203.5 89.4 223.0C88.9 242.5 87.8 270.7 87.5 281.0C87.2 291.3 87.4 284.3 87.4 285.0L90.4 285.0C90.4 284.3 90.2 291.3 90.5 281.0C90.8 270.7 91.9 242.5 92.4 223.0C92.9 203.5 93.5 174.5 93.7 164.0C93.9 153.5 93.8 160.7 93.8 160.0Z" fill="url(#g38)"/></g><g filter="url(#L1)"><path d="M91.3 160.0C91.3 160.7 91.4 153.5 91.2 164.0C91.0 174.5 90.4 203.5 89.9 223.0C89.4 242.5 88.3 270.7 88.0 281.0C87.7 291.3 87.9 284.3 87.9 285.0L89.9 285.0C89.9 284.3 89.7 291.3 90.0 281.0C90.3 270.7 91.4 242.5 91.9 223.0C92.4 203.5 93.0 174.5 93.2 164.0C93.4 153.5 93.3 160.7 93.3 160.0Z" fill="url(#g37)"/></g><g filter="url(#L0)"><path d="M91.7 160.0C91.7 160.7 91.8 153.5 91.6 164.0C91.4 174.5 90.8 203.5 90.3 223.0C89.8 242.5 88.7 270.7 88.4 281.0C88.1 291.3 88.3 284.3 88.3 285.0L89.5 285.0C89.5 284.3 89.3 291.3 89.6 281.0C89.9 270.7 91.0 242.5 91.5 223.0C92.0 203.5 92.6 174.5 92.8 164.0C93.0 153.5 92.9 160.7 92.9 160.0Z" fill="url(#g36)"/></g>
</g></g>
<g clip-path="url(#cd)"><g filter="url(#hot)">
<rect x="296.4" y="161.7" width="175.0" height="121.1" fill="#000"/>
<g filter="url(#L6)"><path d="M331.0 159.6C331.3 160.7 331.9 163.9 332.4 166.1C332.9 168.2 333.4 170.3 333.9 172.4C334.4 174.5 335.0 176.6 335.6 178.7C336.2 180.8 336.8 182.8 337.5 184.9C338.1 186.9 338.8 189.0 339.5 191.0C340.3 193.0 341.0 195.0 341.8 197.0C342.6 199.0 343.4 200.9 344.3 202.8C345.2 204.8 346.1 206.7 347.0 208.6C348.0 210.5 349.0 212.3 350.0 214.2C351.1 216.0 352.1 217.8 353.3 219.6C354.4 221.4 355.5 223.2 356.8 224.9C358.0 226.6 359.2 228.3 360.5 230.0C361.8 231.7 363.1 233.3 364.5 234.9C365.9 236.5 367.3 238.1 368.7 239.6C370.2 241.1 371.7 242.6 373.2 244.1C374.7 245.5 376.3 247.0 377.9 248.3C379.5 249.7 381.2 251.1 382.8 252.4C384.5 253.7 386.2 254.9 388.0 256.1C389.7 257.3 391.5 258.5 393.3 259.6C395.1 260.8 397.0 261.9 398.8 262.9C400.7 263.9 402.6 264.9 404.5 265.9C406.4 266.9 408.4 267.8 410.3 268.7C412.3 269.5 414.3 270.4 416.3 271.1C418.3 271.9 420.3 272.7 422.3 273.4C424.3 274.1 426.4 274.8 428.4 275.4C430.5 276.0 432.6 276.6 434.6 277.1C436.7 277.7 438.8 278.2 440.9 278.6C443.0 279.1 445.0 279.5 447.1 279.9C449.2 280.2 451.3 280.6 453.4 280.8C455.5 281.1 457.6 281.4 459.7 281.6C461.8 281.8 464.9 282.0 465.9 282.1L489.9 282.1C488.9 282.0 485.8 281.8 483.7 281.6C481.6 281.4 479.5 281.1 477.4 280.8C475.3 280.6 473.2 280.2 471.1 279.9C469.0 279.5 467.0 279.1 464.9 278.6C462.8 278.2 460.7 277.7 458.6 277.1C456.6 276.6 454.5 276.0 452.4 275.4C450.4 274.8 448.3 274.1 446.3 273.4C444.3 272.7 442.3 271.9 440.3 271.1C438.3 270.4 436.3 269.5 434.3 268.7C432.4 267.8 430.4 266.9 428.5 265.9C426.6 264.9 424.7 263.9 422.8 262.9C421.0 261.9 419.1 260.8 417.3 259.6C415.5 258.5 413.7 257.3 412.0 256.1C410.2 254.9 408.5 253.7 406.8 252.4C405.2 251.1 403.5 249.7 401.9 248.3C400.3 247.0 398.7 245.5 397.2 244.1C395.7 242.6 394.2 241.1 392.7 239.6C391.3 238.1 389.9 236.5 388.5 234.9C387.1 233.3 385.8 231.7 384.5 230.0C383.2 228.3 382.0 226.6 380.8 224.9C379.5 223.2 378.4 221.4 377.3 219.6C376.1 217.8 375.1 216.0 374.0 214.2C373.0 212.3 372.0 210.5 371.0 208.6C370.1 206.7 369.2 204.8 368.3 202.8C367.4 200.9 366.6 199.0 365.8 197.0C365.0 195.0 364.3 193.0 363.5 191.0C362.8 189.0 362.1 186.9 361.5 184.9C360.8 182.8 360.2 180.8 359.6 178.7C359.0 176.6 358.4 174.5 357.9 172.4C357.4 170.3 356.9 168.2 356.4 166.1C355.9 163.9 355.3 160.7 355.0 159.6Z" fill="url(#g48)"/></g><g filter="url(#L5)"><path d="M336.0 159.6C336.3 160.7 336.9 163.9 337.4 166.1C337.9 168.2 338.4 170.3 338.9 172.4C339.4 174.5 340.0 176.6 340.6 178.7C341.2 180.8 341.8 182.8 342.5 184.9C343.1 186.9 343.8 189.0 344.5 191.0C345.3 193.0 346.0 195.0 346.8 197.0C347.6 199.0 348.4 200.9 349.3 202.8C350.2 204.8 351.1 206.7 352.0 208.6C353.0 210.5 354.0 212.3 355.0 214.2C356.1 216.0 357.1 217.8 358.3 219.6C359.4 221.4 360.5 223.2 361.8 224.9C363.0 226.6 364.2 228.3 365.5 230.0C366.8 231.7 368.1 233.3 369.5 234.9C370.9 236.5 372.3 238.1 373.7 239.6C375.2 241.1 376.7 242.6 378.2 244.1C379.7 245.5 381.3 247.0 382.9 248.3C384.5 249.7 386.2 251.1 387.8 252.4C389.5 253.7 391.2 254.9 393.0 256.1C394.7 257.3 396.5 258.5 398.3 259.6C400.1 260.8 402.0 261.9 403.8 262.9C405.7 263.9 407.6 264.9 409.5 265.9C411.4 266.9 413.4 267.8 415.3 268.7C417.3 269.5 419.3 270.4 421.3 271.1C423.3 271.9 425.3 272.7 427.3 273.4C429.3 274.1 431.4 274.8 433.4 275.4C435.5 276.0 437.6 276.6 439.6 277.1C441.7 277.7 443.8 278.2 445.9 278.6C448.0 279.1 450.0 279.5 452.1 279.9C454.2 280.2 456.3 280.6 458.4 280.8C460.5 281.1 462.6 281.4 464.7 281.6C466.8 281.8 469.9 282.0 470.9 282.1L484.9 282.1C483.9 282.0 480.8 281.8 478.7 281.6C476.6 281.4 474.5 281.1 472.4 280.8C470.3 280.6 468.2 280.2 466.1 279.9C464.0 279.5 462.0 279.1 459.9 278.6C457.8 278.2 455.7 277.7 453.6 277.1C451.6 276.6 449.5 276.0 447.4 275.4C445.4 274.8 443.3 274.1 441.3 273.4C439.3 272.7 437.3 271.9 435.3 271.1C433.3 270.4 431.3 269.5 429.3 268.7C427.4 267.8 425.4 266.9 423.5 265.9C421.6 264.9 419.7 263.9 417.8 262.9C416.0 261.9 414.1 260.8 412.3 259.6C410.5 258.5 408.7 257.3 407.0 256.1C405.2 254.9 403.5 253.7 401.8 252.4C400.2 251.1 398.5 249.7 396.9 248.3C395.3 247.0 393.7 245.5 392.2 244.1C390.7 242.6 389.2 241.1 387.7 239.6C386.3 238.1 384.9 236.5 383.5 234.9C382.1 233.3 380.8 231.7 379.5 230.0C378.2 228.3 377.0 226.6 375.8 224.9C374.5 223.2 373.4 221.4 372.3 219.6C371.1 217.8 370.1 216.0 369.0 214.2C368.0 212.3 367.0 210.5 366.0 208.6C365.1 206.7 364.2 204.8 363.3 202.8C362.4 200.9 361.6 199.0 360.8 197.0C360.0 195.0 359.3 193.0 358.5 191.0C357.8 189.0 357.1 186.9 356.5 184.9C355.8 182.8 355.2 180.8 354.6 178.7C354.0 176.6 353.4 174.5 352.9 172.4C352.4 170.3 351.9 168.2 351.4 166.1C350.9 163.9 350.3 160.7 350.0 159.6Z" fill="url(#g47)"/></g><g filter="url(#L4)"><path d="M339.0 159.6C339.3 160.7 339.9 163.9 340.4 166.1C340.9 168.2 341.4 170.3 341.9 172.4C342.4 174.5 343.0 176.6 343.6 178.7C344.2 180.8 344.8 182.8 345.5 184.9C346.1 186.9 346.8 189.0 347.5 191.0C348.3 193.0 349.0 195.0 349.8 197.0C350.6 199.0 351.4 200.9 352.3 202.8C353.2 204.8 354.1 206.7 355.0 208.6C356.0 210.5 357.0 212.3 358.0 214.2C359.1 216.0 360.1 217.8 361.3 219.6C362.4 221.4 363.5 223.2 364.8 224.9C366.0 226.6 367.2 228.3 368.5 230.0C369.8 231.7 371.1 233.3 372.5 234.9C373.9 236.5 375.3 238.1 376.7 239.6C378.2 241.1 379.7 242.6 381.2 244.1C382.7 245.5 384.3 247.0 385.9 248.3C387.5 249.7 389.2 251.1 390.8 252.4C392.5 253.7 394.2 254.9 396.0 256.1C397.7 257.3 399.5 258.5 401.3 259.6C403.1 260.8 405.0 261.9 406.8 262.9C408.7 263.9 410.6 264.9 412.5 265.9C414.4 266.9 416.4 267.8 418.3 268.7C420.3 269.5 422.3 270.4 424.3 271.1C426.3 271.9 428.3 272.7 430.3 273.4C432.3 274.1 434.4 274.8 436.4 275.4C438.5 276.0 440.6 276.6 442.6 277.1C444.7 277.7 446.8 278.2 448.9 278.6C451.0 279.1 453.0 279.5 455.1 279.9C457.2 280.2 459.3 280.6 461.4 280.8C463.5 281.1 465.6 281.4 467.7 281.6C469.8 281.8 472.9 282.0 473.9 282.1L481.9 282.1C480.9 282.0 477.8 281.8 475.7 281.6C473.6 281.4 471.5 281.1 469.4 280.8C467.3 280.6 465.2 280.2 463.1 279.9C461.0 279.5 459.0 279.1 456.9 278.6C454.8 278.2 452.7 277.7 450.6 277.1C448.6 276.6 446.5 276.0 444.4 275.4C442.4 274.8 440.3 274.1 438.3 273.4C436.3 272.7 434.3 271.9 432.3 271.1C430.3 270.4 428.3 269.5 426.3 268.7C424.4 267.8 422.4 266.9 420.5 265.9C418.6 264.9 416.7 263.9 414.8 262.9C413.0 261.9 411.1 260.8 409.3 259.6C407.5 258.5 405.7 257.3 404.0 256.1C402.2 254.9 400.5 253.7 398.8 252.4C397.2 251.1 395.5 249.7 393.9 248.3C392.3 247.0 390.7 245.5 389.2 244.1C387.7 242.6 386.2 241.1 384.7 239.6C383.3 238.1 381.9 236.5 380.5 234.9C379.1 233.3 377.8 231.7 376.5 230.0C375.2 228.3 374.0 226.6 372.8 224.9C371.5 223.2 370.4 221.4 369.3 219.6C368.1 217.8 367.1 216.0 366.0 214.2C365.0 212.3 364.0 210.5 363.0 208.6C362.1 206.7 361.2 204.8 360.3 202.8C359.4 200.9 358.6 199.0 357.8 197.0C357.0 195.0 356.3 193.0 355.5 191.0C354.8 189.0 354.1 186.9 353.5 184.9C352.8 182.8 352.2 180.8 351.6 178.7C351.0 176.6 350.4 174.5 349.9 172.4C349.4 170.3 348.9 168.2 348.4 166.1C347.9 163.9 347.3 160.7 347.0 159.6Z" fill="url(#g46)"/></g><g filter="url(#L3)"><path d="M340.5 159.6C340.8 160.7 341.4 163.9 341.9 166.1C342.4 168.2 342.9 170.3 343.4 172.4C343.9 174.5 344.5 176.6 345.1 178.7C345.7 180.8 346.3 182.8 347.0 184.9C347.6 186.9 348.3 189.0 349.0 191.0C349.8 193.0 350.5 195.0 351.3 197.0C352.1 199.0 352.9 200.9 353.8 202.8C354.7 204.8 355.6 206.7 356.5 208.6C357.5 210.5 358.5 212.3 359.5 214.2C360.6 216.0 361.6 217.8 362.8 219.6C363.9 221.4 365.0 223.2 366.3 224.9C367.5 226.6 368.7 228.3 370.0 230.0C371.3 231.7 372.6 233.3 374.0 234.9C375.4 236.5 376.8 238.1 378.2 239.6C379.7 241.1 381.2 242.6 382.7 244.1C384.2 245.5 385.8 247.0 387.4 248.3C389.0 249.7 390.7 251.1 392.3 252.4C394.0 253.7 395.7 254.9 397.5 256.1C399.2 257.3 401.0 258.5 402.8 259.6C404.6 260.8 406.5 261.9 408.3 262.9C410.2 263.9 412.1 264.9 414.0 265.9C415.9 266.9 417.9 267.8 419.8 268.7C421.8 269.5 423.8 270.4 425.8 271.1C427.8 271.9 429.8 272.7 431.8 273.4C433.8 274.1 435.9 274.8 437.9 275.4C440.0 276.0 442.1 276.6 444.1 277.1C446.2 277.7 448.3 278.2 450.4 278.6C452.5 279.1 454.5 279.5 456.6 279.9C458.7 280.2 460.8 280.6 462.9 280.8C465.0 281.1 467.1 281.4 469.2 281.6C471.3 281.8 474.4 282.0 475.4 282.1L480.4 282.1C479.4 282.0 476.3 281.8 474.2 281.6C472.1 281.4 470.0 281.1 467.9 280.8C465.8 280.6 463.7 280.2 461.6 279.9C459.5 279.5 457.5 279.1 455.4 278.6C453.3 278.2 451.2 277.7 449.1 277.1C447.1 276.6 445.0 276.0 442.9 275.4C440.9 274.8 438.8 274.1 436.8 273.4C434.8 272.7 432.8 271.9 430.8 271.1C428.8 270.4 426.8 269.5 424.8 268.7C422.9 267.8 420.9 266.9 419.0 265.9C417.1 264.9 415.2 263.9 413.3 262.9C411.5 261.9 409.6 260.8 407.8 259.6C406.0 258.5 404.2 257.3 402.5 256.1C400.7 254.9 399.0 253.7 397.3 252.4C395.7 251.1 394.0 249.7 392.4 248.3C390.8 247.0 389.2 245.5 387.7 244.1C386.2 242.6 384.7 241.1 383.2 239.6C381.8 238.1 380.4 236.5 379.0 234.9C377.6 233.3 376.3 231.7 375.0 230.0C373.7 228.3 372.5 226.6 371.3 224.9C370.0 223.2 368.9 221.4 367.8 219.6C366.6 217.8 365.6 216.0 364.5 214.2C363.5 212.3 362.5 210.5 361.5 208.6C360.6 206.7 359.7 204.8 358.8 202.8C357.9 200.9 357.1 199.0 356.3 197.0C355.5 195.0 354.8 193.0 354.0 191.0C353.3 189.0 352.6 186.9 352.0 184.9C351.3 182.8 350.7 180.8 350.1 178.7C349.5 176.6 348.9 174.5 348.4 172.4C347.9 170.3 347.4 168.2 346.9 166.1C346.4 163.9 345.8 160.7 345.5 159.6Z" fill="url(#g45)"/></g><g filter="url(#L2)"><path d="M341.5 159.6C341.8 160.7 342.4 163.9 342.9 166.1C343.4 168.2 343.9 170.3 344.4 172.4C344.9 174.5 345.5 176.6 346.1 178.7C346.7 180.8 347.3 182.8 348.0 184.9C348.6 186.9 349.3 189.0 350.0 191.0C350.8 193.0 351.5 195.0 352.3 197.0C353.1 199.0 353.9 200.9 354.8 202.8C355.7 204.8 356.6 206.7 357.5 208.6C358.5 210.5 359.5 212.3 360.5 214.2C361.6 216.0 362.6 217.8 363.8 219.6C364.9 221.4 366.0 223.2 367.3 224.9C368.5 226.6 369.7 228.3 371.0 230.0C372.3 231.7 373.6 233.3 375.0 234.9C376.4 236.5 377.8 238.1 379.2 239.6C380.7 241.1 382.2 242.6 383.7 244.1C385.2 245.5 386.8 247.0 388.4 248.3C390.0 249.7 391.7 251.1 393.3 252.4C395.0 253.7 396.7 254.9 398.5 256.1C400.2 257.3 402.0 258.5 403.8 259.6C405.6 260.8 407.5 261.9 409.3 262.9C411.2 263.9 413.1 264.9 415.0 265.9C416.9 266.9 418.9 267.8 420.8 268.7C422.8 269.5 424.8 270.4 426.8 271.1C428.8 271.9 430.8 272.7 432.8 273.4C434.8 274.1 436.9 274.8 438.9 275.4C441.0 276.0 443.1 276.6 445.1 277.1C447.2 277.7 449.3 278.2 451.4 278.6C453.5 279.1 455.5 279.5 457.6 279.9C459.7 280.2 461.8 280.6 463.9 280.8C466.0 281.1 468.1 281.4 470.2 281.6C472.3 281.8 475.4 282.0 476.4 282.1L479.4 282.1C478.4 282.0 475.3 281.8 473.2 281.6C471.1 281.4 469.0 281.1 466.9 280.8C464.8 280.6 462.7 280.2 460.6 279.9C458.5 279.5 456.5 279.1 454.4 278.6C452.3 278.2 450.2 277.7 448.1 277.1C446.1 276.6 444.0 276.0 441.9 275.4C439.9 274.8 437.8 274.1 435.8 273.4C433.8 272.7 431.8 271.9 429.8 271.1C427.8 270.4 425.8 269.5 423.8 268.7C421.9 267.8 419.9 266.9 418.0 265.9C416.1 264.9 414.2 263.9 412.3 262.9C410.5 261.9 408.6 260.8 406.8 259.6C405.0 258.5 403.2 257.3 401.5 256.1C399.7 254.9 398.0 253.7 396.3 252.4C394.7 251.1 393.0 249.7 391.4 248.3C389.8 247.0 388.2 245.5 386.7 244.1C385.2 242.6 383.7 241.1 382.2 239.6C380.8 238.1 379.4 236.5 378.0 234.9C376.6 233.3 375.3 231.7 374.0 230.0C372.7 228.3 371.5 226.6 370.3 224.9C369.0 223.2 367.9 221.4 366.8 219.6C365.6 217.8 364.6 216.0 363.5 214.2C362.5 212.3 361.5 210.5 360.5 208.6C359.6 206.7 358.7 204.8 357.8 202.8C356.9 200.9 356.1 199.0 355.3 197.0C354.5 195.0 353.8 193.0 353.0 191.0C352.3 189.0 351.6 186.9 351.0 184.9C350.3 182.8 349.7 180.8 349.1 178.7C348.5 176.6 347.9 174.5 347.4 172.4C346.9 170.3 346.4 168.2 345.9 166.1C345.4 163.9 344.8 160.7 344.5 159.6Z" fill="url(#g44)"/></g><g filter="url(#L1)"><path d="M342.0 159.6C342.3 160.7 342.9 163.9 343.4 166.1C343.9 168.2 344.4 170.3 344.9 172.4C345.4 174.5 346.0 176.6 346.6 178.7C347.2 180.8 347.8 182.8 348.5 184.9C349.1 186.9 349.8 189.0 350.5 191.0C351.3 193.0 352.0 195.0 352.8 197.0C353.6 199.0 354.4 200.9 355.3 202.8C356.2 204.8 357.1 206.7 358.0 208.6C359.0 210.5 360.0 212.3 361.0 214.2C362.1 216.0 363.1 217.8 364.3 219.6C365.4 221.4 366.5 223.2 367.8 224.9C369.0 226.6 370.2 228.3 371.5 230.0C372.8 231.7 374.1 233.3 375.5 234.9C376.9 236.5 378.3 238.1 379.7 239.6C381.2 241.1 382.7 242.6 384.2 244.1C385.7 245.5 387.3 247.0 388.9 248.3C390.5 249.7 392.2 251.1 393.8 252.4C395.5 253.7 397.2 254.9 399.0 256.1C400.7 257.3 402.5 258.5 404.3 259.6C406.1 260.8 408.0 261.9 409.8 262.9C411.7 263.9 413.6 264.9 415.5 265.9C417.4 266.9 419.4 267.8 421.3 268.7C423.3 269.5 425.3 270.4 427.3 271.1C429.3 271.9 431.3 272.7 433.3 273.4C435.3 274.1 437.4 274.8 439.4 275.4C441.5 276.0 443.6 276.6 445.6 277.1C447.7 277.7 449.8 278.2 451.9 278.6C454.0 279.1 456.0 279.5 458.1 279.9C460.2 280.2 462.3 280.6 464.4 280.8C466.5 281.1 468.6 281.4 470.7 281.6C472.8 281.8 475.9 282.0 476.9 282.1L478.9 282.1C477.9 282.0 474.8 281.8 472.7 281.6C470.6 281.4 468.5 281.1 466.4 280.8C464.3 280.6 462.2 280.2 460.1 279.9C458.0 279.5 456.0 279.1 453.9 278.6C451.8 278.2 449.7 277.7 447.6 277.1C445.6 276.6 443.5 276.0 441.4 275.4C439.4 274.8 437.3 274.1 435.3 273.4C433.3 272.7 431.3 271.9 429.3 271.1C427.3 270.4 425.3 269.5 423.3 268.7C421.4 267.8 419.4 266.9 417.5 265.9C415.6 264.9 413.7 263.9 411.8 262.9C410.0 261.9 408.1 260.8 406.3 259.6C404.5 258.5 402.7 257.3 401.0 256.1C399.2 254.9 397.5 253.7 395.8 252.4C394.2 251.1 392.5 249.7 390.9 248.3C389.3 247.0 387.7 245.5 386.2 244.1C384.7 242.6 383.2 241.1 381.7 239.6C380.3 238.1 378.9 236.5 377.5 234.9C376.1 233.3 374.8 231.7 373.5 230.0C372.2 228.3 371.0 226.6 369.8 224.9C368.5 223.2 367.4 221.4 366.3 219.6C365.1 217.8 364.1 216.0 363.0 214.2C362.0 212.3 361.0 210.5 360.0 208.6C359.1 206.7 358.2 204.8 357.3 202.8C356.4 200.9 355.6 199.0 354.8 197.0C354.0 195.0 353.3 193.0 352.5 191.0C351.8 189.0 351.1 186.9 350.5 184.9C349.8 182.8 349.2 180.8 348.6 178.7C348.0 176.6 347.4 174.5 346.9 172.4C346.4 170.3 345.9 168.2 345.4 166.1C344.9 163.9 344.3 160.7 344.0 159.6Z" fill="url(#g43)"/></g>
</g></g>
<rect class="sp" x="39.70" y="17.20" width="171.00" height="117.10"/>
<rect class="sp" x="298.40" y="17.20" width="171.00" height="117.10"/>
<rect class="sp" x="39.70" y="163.70" width="171.00" height="117.10"/>
<rect class="sp" x="298.40" y="163.70" width="171.00" height="117.10"/>
<rect x="495.40" y="17.30" width="23.50" height="263.50" fill="url(#cbg)" stroke="#111" stroke-width=".8"/>
<text x="526.3" y="284.20">0</text>
<text x="526.3" y="251.26">5</text>
<text x="526.3" y="218.33">10</text>
<text x="526.3" y="185.39">15</text>
<text x="526.3" y="152.45">20</text>
<text x="526.3" y="119.51">25</text>
<text x="526.3" y="86.58">30</text>
<text x="526.3" y="53.64">35</text>
<text x="526.3" y="20.70">40</text>
<path class="tk" d="M518.90 280.80h3.7M518.90 247.86h3.7M518.90 214.93h3.7M518.90 181.99h3.7M518.90 149.05h3.7M518.90 116.11h3.7M518.90 83.18h3.7M518.90 50.24h3.7M518.90 17.30h3.7"/>
<text class="al" transform="translate(547.3 149.5) rotate(-90)" text-anchor="middle" textLength="115.5" lengthAdjust="spacingAndGlyphs">Transmission loss <tspan class="i">TL</tspan> in dB</text>
<text x="79.16" y="296.1" text-anchor="middle">500</text>
<text x="144.93" y="296.1" text-anchor="middle">1000</text>
<text x="210.70" y="296.1" text-anchor="middle">1500</text>
<text class="al" x="125.20" y="310.2" text-anchor="middle" textLength="79.6" lengthAdjust="spacingAndGlyphs">Frequency <tspan class="i">f</tspan> in Hz</text>
<text x="337.86" y="296.1" text-anchor="middle">500</text>
<text x="403.63" y="296.1" text-anchor="middle">1000</text>
<text x="469.40" y="296.1" text-anchor="middle">1500</text>
<text class="al" x="383.90" y="310.2" text-anchor="middle" textLength="79.6" lengthAdjust="spacingAndGlyphs">Frequency <tspan class="i">f</tspan> in Hz</text>
<text x="18.6" y="137.70">10<tspan class="s" dy="-3.6">1</tspan></text>
<text x="18.6" y="98.67">10<tspan class="s" dy="-3.6">2</tspan></text>
<text x="18.6" y="59.63">10<tspan class="s" dy="-3.6">3</tspan></text>
<text x="18.6" y="20.60">10<tspan class="s" dy="-3.6">4</tspan></text>
<text x="217.8" y="25.50">10<tspan class="s2" dy="-3.4" dx="0.3">−2</tspan></text>
<text x="217.8" y="87.10">10<tspan class="s2" dy="-3.4" dx="0.3">−1</tspan></text>
<text class="al" transform="translate(11.6 75.7) rotate(-90)" text-anchor="middle" textLength="113" lengthAdjust="spacingAndGlyphs">Young’ modulus <tspan class="i">E</tspan> in MPa</text>
<text class="al" transform="translate(250.0 75.5) rotate(-90)" text-anchor="middle" textLength="54.5" lengthAdjust="spacingAndGlyphs">Loss factor <tspan class="i">η</tspan></text>
<text x="291.3" y="137.70" text-anchor="end">0.1</text>
<text x="291.3" y="108.43" text-anchor="end">0.2</text>
<text x="291.3" y="79.15" text-anchor="end">0.3</text>
<text x="291.3" y="49.88" text-anchor="end">0.4</text>
<text x="291.3" y="20.60" text-anchor="end">0.5</text>
<text class="al" transform="translate(271.4 75.8) rotate(-90)" text-anchor="middle" textLength="107" lengthAdjust="spacingAndGlyphs">Plate thickness <tspan class="i">h</tspan><tspan class="s i" dy="2">p</tspan><tspan dy="-2"> in mm</tspan></text>
<text x="32.7" y="264.68" text-anchor="end">40</text>
<text x="32.7" y="225.65" text-anchor="end">60</text>
<text x="32.7" y="186.62" text-anchor="end">80</text>
<text class="al" transform="translate(15.2 222.6) rotate(-90)" text-anchor="middle" textLength="99.5" lengthAdjust="spacingAndGlyphs">Cavity length <tspan class="i">l</tspan><tspan class="s i" dy="2">c</tspan><tspan dy="-2"> in mm</tspan></text>
<text x="291.5" y="264.68" text-anchor="end">10</text>
<text x="291.5" y="225.65" text-anchor="end">20</text>
<text x="291.5" y="186.62" text-anchor="end">30</text>
<text class="al" transform="translate(274.9 222.3) rotate(-90)" text-anchor="middle" textLength="102.5" lengthAdjust="spacingAndGlyphs">Cavity height <tspan class="i">h</tspan><tspan class="s i" dy="2">c</tspan><tspan dy="-2"> in mm</tspan></text>
<path class="tk" d="M79.16 134.30v3.7M144.93 134.30v3.7M210.40 134.30v3.7M337.86 134.30v3.7M403.63 134.30v3.7M469.10 134.30v3.7M79.16 280.80v3.7M144.93 280.80v3.7M210.40 280.80v3.7M337.86 280.80v3.7M403.63 280.80v3.7M469.10 280.80v3.7M39.70 134.30h-3.7M39.70 95.27h-3.7M39.70 56.23h-3.7M39.70 17.20h-3.7M210.70 22.10h3.7M210.70 83.70h3.7M298.40 134.30h-3.7M298.40 105.03h-3.7M298.40 75.75h-3.7M298.40 46.48h-3.7M298.40 17.20h-3.7M39.70 261.28h-3.7M39.70 222.25h-3.7M39.70 183.22h-3.7M298.40 261.28h-3.7M298.40 222.25h-3.7M298.40 183.22h-3.7"/>
<path class="mt" d="M39.70 122.55h-2.2M39.70 115.68h-2.2M39.70 110.80h-2.2M39.70 107.02h-2.2M39.70 103.93h-2.2M39.70 101.31h-2.2M39.70 99.05h-2.2M39.70 97.05h-2.2M39.70 83.52h-2.2M39.70 76.64h-2.2M39.70 71.77h-2.2M39.70 67.98h-2.2M39.70 64.89h-2.2M39.70 62.28h-2.2M39.70 60.02h-2.2M39.70 58.02h-2.2M39.70 44.48h-2.2M39.70 37.61h-2.2M39.70 32.73h-2.2M39.70 28.95h-2.2M39.70 25.86h-2.2M39.70 23.25h-2.2M39.70 20.98h-2.2M39.70 18.99h-2.2M210.70 19.28h2.2M210.70 40.64h2.2M210.70 51.49h2.2M210.70 59.19h2.2M210.70 65.16h2.2M210.70 70.03h2.2M210.70 74.16h2.2M210.70 77.73h2.2M210.70 80.88h2.2M210.70 102.24h2.2M210.70 113.09h2.2M210.70 120.79h2.2M210.70 126.76h2.2M210.70 131.63h2.2"/>
<text class="b" x="40.1" y="11.3">(a)</text>
<text class="b" x="298.7" y="11.3">(b)</text>
<text class="b" x="39.5" y="157.7">(c)</text>
<text class="b" x="298.6" y="157.7">(d)</text>
</svg></body></html>
